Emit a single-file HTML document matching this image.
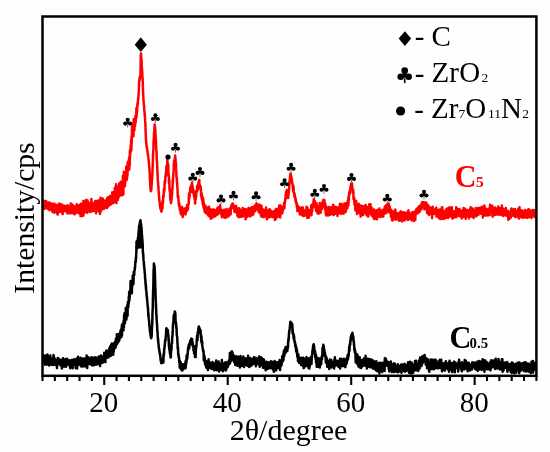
<!DOCTYPE html>
<html><head><meta charset="utf-8"><style>
html,body{margin:0;padding:0;background:#fefefe;}
svg{display:block;}
text{font-family:"Liberation Serif","Times New Roman",serif;fill:#000;}
</style></head><body>
<svg width="550" height="452" viewBox="0 0 550 452">
<rect width="550" height="452" fill="#fefefe"/>
<polyline fill="none" stroke="#ff0000" stroke-width="2.5" stroke-linejoin="round" points="43.3,204.7 43.4,207.9 43.5,207.7 43.7,203.6 43.8,204.1 43.9,203.6 44.0,206.3 44.2,204.9 44.3,206.8 44.4,200.7 44.5,208.9 44.7,205.0 44.8,206.9 44.9,205.0 45.0,204.4 45.1,206.5 45.3,207.4 45.4,205.0 45.5,205.2 45.6,207.2 45.8,203.5 45.9,202.1 46.0,206.7 46.1,204.2 46.3,201.2 46.4,203.9 46.5,204.8 46.6,203.1 46.7,202.4 46.9,206.1 47.0,208.2 47.1,205.6 47.2,204.4 47.4,207.1 47.5,208.0 47.6,205.6 47.7,207.6 47.9,208.9 48.0,205.9 48.1,204.5 48.2,207.3 48.3,207.1 48.5,209.2 48.6,203.5 48.7,205.1 48.8,204.7 49.0,202.6 49.1,207.1 49.2,208.1 49.3,205.1 49.5,210.2 49.6,208.9 49.7,208.4 49.8,207.9 49.9,209.3 50.1,203.8 50.2,208.5 50.3,208.5 50.4,202.9 50.6,208.0 50.7,206.6 50.8,209.1 50.9,206.2 51.0,207.2 51.2,208.1 51.3,205.2 51.4,208.8 51.5,207.1 51.7,208.6 51.8,206.2 51.9,210.1 52.0,208.9 52.2,207.1 52.3,209.1 52.4,210.6 52.5,211.9 52.6,203.8 52.8,209.8 52.9,208.8 53.0,207.5 53.1,205.3 53.3,210.8 53.4,204.7 53.5,209.2 53.6,210.9 53.8,204.0 53.9,207.1 54.0,204.8 54.1,208.5 54.2,211.6 54.4,212.8 54.5,203.7 54.6,206.6 54.7,209.7 54.9,211.8 55.0,209.1 55.1,206.3 55.2,208.8 55.4,208.1 55.5,207.7 55.6,206.4 55.7,209.1 55.8,209.0 56.0,208.0 56.1,207.7 56.2,205.2 56.3,207.1 56.5,211.2 56.6,207.9 56.7,204.9 56.8,211.6 57.0,209.6 57.1,213.5 57.2,208.6 57.3,207.3 57.4,205.0 57.6,211.6 57.7,214.6 57.8,206.5 57.9,206.9 58.1,209.9 58.2,206.5 58.3,207.9 58.4,207.7 58.6,209.0 58.7,211.2 58.8,208.6 58.9,210.8 59.0,207.6 59.2,209.4 59.3,203.5 59.4,205.2 59.5,210.6 59.7,207.3 59.8,210.1 59.9,210.0 60.0,211.9 60.2,210.7 60.3,211.2 60.4,208.5 60.5,207.1 60.6,207.0 60.8,207.6 60.9,206.1 61.0,207.5 61.1,208.6 61.3,209.4 61.4,208.0 61.5,204.2 61.6,208.7 61.8,209.4 61.9,211.5 62.0,210.3 62.1,207.4 62.2,207.2 62.4,213.8 62.5,210.8 62.6,213.3 62.7,214.1 62.9,207.0 63.0,209.9 63.1,210.1 63.2,210.3 63.3,210.3 63.5,209.5 63.6,209.4 63.7,205.4 63.8,208.6 64.0,207.3 64.1,209.4 64.2,207.9 64.3,210.6 64.5,211.0 64.6,209.8 64.7,209.9 64.8,209.3 64.9,208.0 65.1,208.7 65.2,207.9 65.3,210.1 65.4,209.2 65.6,210.5 65.7,206.0 65.8,211.3 65.9,207.3 66.1,207.4 66.2,208.7 66.3,207.8 66.4,209.9 66.5,207.8 66.7,206.6 66.8,207.2 66.9,212.3 67.0,209.3 67.2,206.4 67.3,209.2 67.4,205.5 67.5,213.5 67.7,205.5 67.8,210.3 67.9,210.5 68.0,205.7 68.1,209.9 68.3,211.6 68.4,210.3 68.5,209.8 68.6,211.5 68.8,209.6 68.9,210.0 69.0,208.9 69.1,210.7 69.3,206.9 69.4,211.1 69.5,208.0 69.6,206.6 69.7,210.1 69.9,213.3 70.0,211.5 70.1,208.0 70.2,210.9 70.4,208.1 70.5,208.9 70.6,209.4 70.7,203.6 70.9,209.7 71.0,206.7 71.1,207.5 71.2,205.7 71.3,205.6 71.5,206.9 71.6,211.2 71.7,213.2 71.8,209.1 72.0,211.8 72.1,208.6 72.2,204.6 72.3,209.6 72.5,210.3 72.6,208.2 72.7,209.9 72.8,210.6 72.9,207.1 73.1,205.6 73.2,208.7 73.3,208.7 73.4,208.3 73.6,211.6 73.7,213.5 73.8,208.2 73.9,210.9 74.1,211.5 74.2,211.0 74.3,211.8 74.4,208.2 74.5,211.1 74.7,214.3 74.8,211.2 74.9,207.6 75.0,210.7 75.2,212.4 75.3,210.1 75.4,207.8 75.5,213.1 75.7,206.0 75.8,210.5 75.9,209.2 76.0,206.1 76.1,212.3 76.3,210.1 76.4,206.2 76.5,210.8 76.6,208.1 76.8,204.3 76.9,207.4 77.0,209.9 77.1,210.9 77.2,209.6 77.4,209.3 77.5,210.4 77.6,208.6 77.7,212.3 77.9,209.6 78.0,210.0 78.1,210.6 78.2,206.4 78.4,207.3 78.5,213.3 78.6,210.1 78.7,208.4 78.8,210.1 79.0,207.9 79.1,209.9 79.2,207.4 79.3,209.9 79.5,204.9 79.6,212.7 79.7,207.7 79.8,204.8 80.0,208.5 80.1,208.0 80.2,209.4 80.3,205.9 80.4,210.1 80.6,216.1 80.7,205.4 80.8,209.9 80.9,208.0 81.1,209.4 81.2,203.8 81.3,205.6 81.4,210.1 81.6,208.7 81.7,213.3 81.8,206.8 81.9,209.2 82.0,216.0 82.2,206.5 82.3,206.1 82.4,208.5 82.5,208.4 82.7,210.9 82.8,208.9 82.9,206.3 83.0,209.1 83.2,215.8 83.3,212.0 83.4,200.9 83.5,207.9 83.6,205.8 83.8,210.1 83.9,207.8 84.0,213.8 84.1,210.9 84.3,210.7 84.4,208.7 84.5,208.0 84.6,209.1 84.8,211.8 84.9,209.6 85.0,207.0 85.1,211.7 85.2,208.5 85.4,207.7 85.5,205.5 85.6,206.2 85.7,205.9 85.9,200.1 86.0,210.7 86.1,209.4 86.2,207.0 86.4,210.7 86.5,208.8 86.6,208.6 86.7,200.1 86.8,206.7 87.0,209.0 87.1,212.1 87.2,212.8 87.3,211.5 87.5,203.7 87.6,200.5 87.7,208.8 87.8,207.1 88.0,209.9 88.1,206.6 88.2,207.6 88.3,202.3 88.4,208.2 88.6,205.4 88.7,207.8 88.8,208.1 88.9,206.3 89.1,207.6 89.2,206.6 89.3,208.9 89.4,208.1 89.6,204.9 89.7,204.7 89.8,211.9 89.9,206.2 90.0,209.6 90.2,207.7 90.3,204.7 90.4,204.1 90.5,206.8 90.7,207.3 90.8,208.4 90.9,202.5 91.0,204.6 91.1,206.1 91.3,211.5 91.4,199.0 91.5,207.8 91.6,204.7 91.8,207.8 91.9,204.9 92.0,207.6 92.1,211.3 92.3,207.5 92.4,207.8 92.5,207.6 92.6,204.0 92.7,208.1 92.9,205.7 93.0,203.8 93.1,206.2 93.2,205.6 93.4,208.8 93.5,206.2 93.6,204.7 93.7,211.0 93.9,209.5 94.0,210.4 94.1,208.3 94.2,206.0 94.3,205.0 94.5,205.4 94.6,209.4 94.7,206.7 94.8,201.6 95.0,206.2 95.1,201.8 95.2,206.9 95.3,202.4 95.5,202.2 95.6,206.7 95.7,206.1 95.8,200.9 95.9,208.7 96.1,213.3 96.2,201.5 96.3,212.2 96.4,204.1 96.6,204.7 96.7,205.7 96.8,201.6 96.9,210.5 97.1,207.9 97.2,203.8 97.3,205.4 97.4,201.3 97.5,205.1 97.7,209.3 97.8,200.7 97.9,204.8 98.0,206.7 98.2,209.7 98.3,210.7 98.4,204.8 98.5,203.8 98.7,207.7 98.8,205.1 98.9,205.2 99.0,209.8 99.1,211.8 99.3,207.1 99.4,205.6 99.5,208.1 99.6,200.0 99.8,206.2 99.9,202.7 100.0,214.1 100.1,208.6 100.3,206.6 100.4,205.5 100.5,197.8 100.6,208.5 100.7,211.5 100.9,203.7 101.0,208.3 101.1,208.4 101.2,200.8 101.4,209.0 101.5,210.4 101.6,206.6 101.7,205.6 101.9,208.4 102.0,200.6 102.1,206.0 102.2,209.1 102.3,201.4 102.5,208.8 102.6,204.0 102.7,198.4 102.8,205.0 103.0,202.0 103.1,206.3 103.2,201.2 103.3,208.6 103.4,202.6 103.6,206.2 103.7,202.9 103.8,203.8 103.9,208.8 104.1,205.5 104.2,203.4 104.3,200.4 104.4,208.5 104.6,207.0 104.7,203.4 104.8,205.3 104.9,200.9 105.0,200.9 105.2,201.4 105.3,205.4 105.4,205.1 105.5,201.5 105.7,206.5 105.8,206.6 105.9,204.4 106.0,207.3 106.2,202.7 106.3,203.2 106.4,205.2 106.5,203.4 106.6,206.1 106.8,199.0 106.9,208.1 107.0,200.5 107.1,202.5 107.3,198.3 107.4,205.0 107.5,207.2 107.6,206.4 107.8,205.5 107.9,197.2 108.0,199.8 108.1,200.8 108.2,199.1 108.4,206.1 108.5,202.8 108.6,202.0 108.7,203.6 108.9,198.5 109.0,198.6 109.1,198.6 109.2,203.3 109.4,202.6 109.5,203.3 109.6,204.9 109.7,196.4 109.8,199.0 110.0,201.4 110.1,196.0 110.2,198.8 110.3,204.0 110.5,204.2 110.6,204.0 110.7,200.3 110.8,199.2 111.0,203.7 111.1,198.4 111.2,200.8 111.3,204.2 111.4,197.9 111.6,196.9 111.7,198.9 111.8,200.9 111.9,200.3 112.1,199.0 112.2,200.3 112.3,192.2 112.4,194.8 112.6,198.3 112.7,194.2 112.8,192.5 112.9,192.8 113.0,193.8 113.2,196.4 113.3,193.1 113.4,197.7 113.5,203.0 113.7,196.0 113.8,201.2 113.9,197.4 114.0,192.0 114.2,195.2 114.3,192.3 114.4,198.8 114.5,191.5 114.6,200.8 114.8,197.8 114.9,187.8 115.0,198.4 115.1,201.3 115.3,192.2 115.4,198.9 115.5,188.0 115.6,195.9 115.8,188.3 115.9,196.5 116.0,187.5 116.1,184.2 116.2,195.8 116.4,203.1 116.5,191.6 116.6,197.1 116.7,194.1 116.9,192.2 117.0,195.8 117.1,199.7 117.2,188.1 117.3,195.1 117.5,194.0 117.6,186.8 117.7,198.8 117.8,200.0 118.0,188.1 118.1,198.8 118.2,191.9 118.3,190.8 118.5,197.4 118.6,192.0 118.7,192.2 118.8,197.0 118.9,195.9 119.1,194.1 119.2,184.4 119.3,183.5 119.4,194.5 119.6,185.8 119.7,190.1 119.8,184.8 119.9,188.4 120.1,183.6 120.2,195.6 120.3,184.3 120.4,187.9 120.5,187.4 120.7,193.1 120.8,181.8 120.9,187.5 121.0,186.6 121.2,189.5 121.3,189.1 121.4,184.9 121.5,187.8 121.7,185.0 121.8,188.4 121.9,185.8 122.0,183.2 122.1,185.8 122.3,187.3 122.4,195.3 122.5,183.2 122.6,186.5 122.8,191.3 122.9,175.7 123.0,176.9 123.1,179.1 123.3,183.5 123.4,194.3 123.5,185.2 123.6,188.4 123.7,181.9 123.9,171.8 124.0,172.1 124.1,186.4 124.2,182.4 124.4,175.6 124.5,185.8 124.6,173.8 124.7,185.2 124.9,186.2 125.0,176.1 125.1,174.3 125.2,182.5 125.3,173.6 125.5,181.8 125.6,172.3 125.7,180.7 125.8,177.2 126.0,174.4 126.1,171.9 126.2,176.4 126.3,166.5 126.5,173.2 126.6,172.1 126.7,176.3 126.8,167.2 126.9,179.6 127.1,170.0 127.2,165.6 127.3,176.1 127.4,176.3 127.6,167.0 127.7,162.8 127.8,165.7 127.9,161.8 128.1,162.8 128.2,170.5 128.3,164.7 128.4,163.1 128.5,163.5 128.7,161.2 128.8,164.7 128.9,164.3 129.0,158.2 129.2,159.7 129.3,169.5 129.4,160.0 129.5,156.7 129.7,166.1 129.8,156.4 129.9,150.7 130.0,157.9 130.1,150.0 130.3,150.8 130.4,153.5 130.5,150.3 130.6,146.2 130.8,146.0 130.9,144.5 131.0,151.0 131.1,141.0 131.2,140.1 131.4,150.2 131.5,136.7 131.6,144.1 131.7,141.6 131.9,133.6 132.0,126.6 132.1,133.9 132.2,133.9 132.4,134.6 132.5,130.0 132.6,134.7 132.7,135.2 132.8,123.8 133.0,134.8 133.1,128.9 133.2,125.4 133.3,126.3 133.5,136.2 133.6,132.0 133.7,119.3 133.8,127.7 134.0,126.5 134.1,126.2 134.2,124.5 134.3,120.2 134.4,130.1 134.6,122.1 134.7,124.1 134.8,122.4 134.9,121.0 135.1,125.9 135.2,123.4 135.3,118.3 135.4,116.4 135.6,117.5 135.7,122.1 135.8,118.1 135.9,117.7 136.0,114.9 136.2,114.3 136.3,115.0 136.4,108.0 136.5,117.2 136.7,109.7 136.8,109.5 136.9,113.1 137.0,109.6 137.2,108.2 137.3,106.2 137.4,103.7 137.5,105.5 137.6,105.8 137.8,101.9 137.9,103.7 138.0,99.4 138.1,98.7 138.3,99.0 138.4,97.2 138.5,96.6 138.6,93.7 138.8,91.7 138.9,88.7 139.0,86.3 139.1,83.7 139.2,81.0 139.4,80.5 139.5,79.0 139.6,77.5 139.7,80.3 139.9,77.5 140.0,76.7 140.1,77.9 140.2,77.1 140.4,74.4 140.5,72.3 140.6,66.4 140.7,62.1 140.8,55.0 141.0,53.4 141.1,55.1 141.2,57.7 141.3,57.5 141.5,60.0 141.6,61.3 141.7,66.0 141.8,67.7 142.0,69.0 142.1,70.2 142.2,72.7 142.3,72.8 142.4,76.8 142.6,78.0 142.7,80.5 142.8,83.8 142.9,87.4 143.1,91.8 143.2,95.1 143.3,97.1 143.4,98.2 143.5,101.1 143.7,102.1 143.8,104.6 143.9,104.6 144.0,104.8 144.2,107.7 144.3,110.8 144.4,110.9 144.5,111.7 144.7,113.8 144.8,115.1 144.9,116.8 145.0,117.9 145.1,120.4 145.3,122.6 145.4,124.4 145.5,127.1 145.6,131.7 145.8,135.9 145.9,138.3 146.0,139.8 146.1,141.3 146.3,144.2 146.4,143.6 146.5,145.2 146.6,146.9 146.7,146.3 146.9,147.3 147.0,148.7 147.1,150.0 147.2,149.8 147.4,150.8 147.5,151.6 147.6,151.6 147.7,154.3 147.9,154.2 148.0,154.0 148.1,156.1 148.2,155.8 148.3,157.3 148.5,159.0 148.6,159.3 148.7,161.9 148.8,161.0 149.0,163.6 149.1,165.1 149.2,167.2 149.3,168.3 149.5,169.5 149.6,171.3 149.7,173.2 149.8,176.3 149.9,177.8 150.1,181.8 150.2,183.8 150.3,185.9 150.4,187.2 150.6,190.5 150.7,189.6 150.8,191.0 150.9,191.2 151.1,191.2 151.2,190.3 151.3,189.3 151.4,188.5 151.5,185.1 151.7,184.7 151.8,182.0 151.9,181.4 152.0,178.5 152.2,176.7 152.3,175.0 152.4,173.5 152.5,169.9 152.7,166.6 152.8,164.3 152.9,159.3 153.0,155.2 153.1,153.4 153.3,150.5 153.4,148.9 153.5,146.5 153.6,140.6 153.8,140.6 153.9,137.1 154.0,134.1 154.1,131.9 154.3,132.0 154.4,128.5 154.5,126.8 154.6,126.2 154.7,124.5 154.9,126.0 155.0,126.4 155.1,128.2 155.2,130.0 155.4,130.9 155.5,134.8 155.6,134.9 155.7,138.7 155.9,139.2 156.0,143.5 156.1,145.2 156.2,148.4 156.3,150.3 156.5,151.4 156.6,154.6 156.7,157.8 156.8,160.6 157.0,161.1 157.1,162.9 157.2,166.3 157.3,169.3 157.4,171.4 157.6,173.7 157.7,177.4 157.8,179.8 157.9,181.7 158.1,182.2 158.2,184.9 158.3,186.3 158.4,187.0 158.6,190.4 158.7,191.3 158.8,192.3 158.9,195.3 159.0,196.2 159.2,197.8 159.3,199.6 159.4,200.8 159.5,200.6 159.7,202.6 159.8,205.0 159.9,204.4 160.0,205.7 160.2,206.6 160.3,208.1 160.4,208.5 160.5,208.6 160.6,207.8 160.8,209.6 160.9,209.4 161.0,208.8 161.1,211.2 161.3,210.1 161.4,208.3 161.5,211.6 161.6,209.0 161.8,210.1 161.9,205.7 162.0,207.8 162.1,205.2 162.2,204.3 162.4,201.5 162.5,208.2 162.6,202.8 162.7,202.5 162.9,203.2 163.0,199.9 163.1,200.2 163.2,195.7 163.4,197.8 163.5,195.7 163.6,196.5 163.7,194.9 163.8,190.9 164.0,189.0 164.1,189.6 164.2,191.9 164.3,190.3 164.5,189.1 164.6,183.4 164.7,181.1 164.8,183.7 165.0,183.0 165.1,181.2 165.2,181.8 165.3,179.5 165.4,176.3 165.6,175.6 165.7,176.2 165.8,174.7 165.9,172.9 166.1,176.0 166.2,169.8 166.3,169.3 166.4,166.2 166.6,166.6 166.7,167.7 166.8,167.2 166.9,165.3 167.0,165.9 167.2,164.9 167.3,161.0 167.4,159.5 167.5,169.1 167.7,166.7 167.8,165.7 167.9,163.4 168.0,165.3 168.2,171.4 168.3,164.9 168.4,170.4 168.5,173.8 168.6,173.8 168.8,176.6 168.9,176.6 169.0,183.3 169.1,178.6 169.3,179.8 169.4,184.8 169.5,188.9 169.6,187.7 169.7,191.4 169.9,189.8 170.0,190.2 170.1,196.8 170.2,198.7 170.4,200.2 170.5,197.9 170.6,197.8 170.7,198.8 170.9,201.3 171.0,203.1 171.1,202.8 171.2,198.7 171.3,201.0 171.5,199.7 171.6,198.6 171.7,197.1 171.8,195.2 172.0,195.2 172.1,192.8 172.2,191.5 172.3,188.3 172.5,188.8 172.6,186.1 172.7,180.5 172.8,183.6 172.9,180.1 173.1,180.4 173.2,176.4 173.3,174.6 173.4,173.3 173.6,171.1 173.7,168.3 173.8,163.8 173.9,168.9 174.1,160.6 174.2,161.5 174.3,162.2 174.4,160.7 174.5,160.1 174.7,159.6 174.8,159.9 174.9,157.7 175.0,162.0 175.2,155.4 175.3,158.5 175.4,158.4 175.5,159.2 175.7,162.0 175.8,165.6 175.9,162.8 176.0,164.6 176.1,169.4 176.3,171.4 176.4,176.4 176.5,177.0 176.6,177.8 176.8,178.8 176.9,181.7 177.0,182.8 177.1,182.3 177.3,186.8 177.4,188.1 177.5,189.7 177.6,190.9 177.7,196.5 177.9,196.0 178.0,197.7 178.1,195.9 178.2,196.2 178.4,198.8 178.5,200.8 178.6,200.7 178.7,202.0 178.9,205.1 179.0,204.7 179.1,203.0 179.2,204.8 179.3,205.0 179.5,207.2 179.6,205.1 179.7,207.6 179.8,209.7 180.0,208.9 180.1,207.6 180.2,208.6 180.3,210.4 180.5,211.5 180.6,212.5 180.7,210.8 180.8,208.8 180.9,214.2 181.1,212.1 181.2,212.4 181.3,212.3 181.4,209.8 181.6,211.2 181.7,212.4 181.8,213.9 181.9,212.1 182.1,207.1 182.2,211.7 182.3,212.9 182.4,214.7 182.5,213.6 182.7,217.1 182.8,215.1 182.9,215.0 183.0,214.2 183.2,209.8 183.3,214.1 183.4,213.6 183.5,211.5 183.6,213.6 183.8,213.3 183.9,211.6 184.0,212.3 184.1,212.0 184.3,212.9 184.4,211.6 184.5,213.4 184.6,208.6 184.8,211.7 184.9,208.9 185.0,211.1 185.1,212.9 185.2,211.8 185.4,211.4 185.5,211.6 185.6,214.4 185.7,209.0 185.9,212.7 186.0,207.9 186.1,209.7 186.2,210.7 186.4,208.6 186.5,210.4 186.6,211.2 186.7,207.2 186.8,209.1 187.0,208.3 187.1,205.1 187.2,208.1 187.3,206.5 187.5,210.1 187.6,205.3 187.7,209.7 187.8,204.8 188.0,208.9 188.1,205.5 188.2,204.6 188.3,204.5 188.4,204.0 188.6,204.2 188.7,204.1 188.8,199.4 188.9,196.9 189.1,193.7 189.2,197.2 189.3,198.6 189.4,197.0 189.6,195.7 189.7,193.9 189.8,192.5 189.9,192.4 190.0,192.9 190.2,188.1 190.3,192.2 190.4,187.5 190.5,189.6 190.7,188.2 190.8,188.4 190.9,186.7 191.0,186.1 191.2,187.5 191.3,185.6 191.4,192.1 191.5,186.4 191.6,185.8 191.8,185.9 191.9,185.0 192.0,182.4 192.1,186.8 192.3,188.2 192.4,185.0 192.5,188.2 192.6,186.3 192.8,189.0 192.9,190.2 193.0,190.8 193.1,191.2 193.2,189.4 193.4,192.9 193.5,190.9 193.6,193.1 193.7,194.4 193.9,193.2 194.0,192.1 194.1,196.6 194.2,194.0 194.4,195.2 194.5,195.5 194.6,199.8 194.7,198.4 194.8,194.8 195.0,200.8 195.1,203.5 195.2,202.9 195.3,198.1 195.5,198.9 195.6,199.2 195.7,199.3 195.8,196.9 196.0,193.9 196.1,196.6 196.2,195.5 196.3,190.9 196.4,191.9 196.6,192.3 196.7,191.0 196.8,191.4 196.9,191.4 197.1,190.3 197.2,188.5 197.3,185.6 197.4,188.8 197.5,189.7 197.7,190.3 197.8,185.9 197.9,185.4 198.0,187.8 198.2,187.3 198.3,184.9 198.4,185.3 198.5,182.2 198.7,184.7 198.8,181.9 198.9,183.2 199.0,183.4 199.1,182.9 199.3,180.0 199.4,182.8 199.5,185.3 199.6,185.0 199.8,184.8 199.9,186.8 200.0,187.8 200.1,188.6 200.3,185.9 200.4,187.9 200.5,187.7 200.6,187.3 200.7,186.7 200.9,190.1 201.0,189.3 201.1,195.9 201.2,192.4 201.4,192.9 201.5,193.3 201.6,198.5 201.7,193.8 201.9,196.0 202.0,195.5 202.1,197.4 202.2,198.3 202.3,201.2 202.5,197.0 202.6,200.4 202.7,204.2 202.8,200.8 203.0,202.0 203.1,201.3 203.2,198.5 203.3,203.9 203.5,207.0 203.6,204.2 203.7,202.0 203.8,206.8 203.9,206.9 204.1,209.4 204.2,209.7 204.3,207.6 204.4,209.4 204.6,205.0 204.7,211.7 204.8,209.9 204.9,212.1 205.1,212.3 205.2,209.4 205.3,209.9 205.4,208.4 205.5,205.8 205.7,210.5 205.8,211.3 205.9,208.5 206.0,212.9 206.2,211.6 206.3,212.5 206.4,209.7 206.5,207.4 206.7,213.6 206.8,213.3 206.9,211.6 207.0,211.0 207.1,211.4 207.3,211.8 207.4,210.9 207.5,207.4 207.6,214.2 207.8,208.7 207.9,211.6 208.0,211.7 208.1,213.1 208.3,208.7 208.4,215.5 208.5,214.2 208.6,214.6 208.7,215.8 208.9,210.9 209.0,206.7 209.1,213.7 209.2,216.1 209.4,215.8 209.5,211.8 209.6,212.9 209.7,213.8 209.8,208.8 210.0,211.6 210.1,211.7 210.2,217.1 210.3,211.7 210.5,217.1 210.6,213.4 210.7,209.3 210.8,218.7 211.0,211.1 211.1,214.9 211.2,217.5 211.3,212.2 211.4,210.5 211.6,216.0 211.7,213.6 211.8,210.6 211.9,210.9 212.1,212.6 212.2,215.8 212.3,212.8 212.4,215.1 212.6,217.5 212.7,216.5 212.8,216.9 212.9,216.4 213.0,209.6 213.2,216.4 213.3,214.2 213.4,213.1 213.5,210.8 213.7,209.6 213.8,210.7 213.9,213.3 214.0,210.5 214.2,211.4 214.3,211.8 214.4,214.9 214.5,212.6 214.6,212.9 214.8,216.4 214.9,212.5 215.0,214.6 215.1,210.6 215.3,213.9 215.4,213.4 215.5,213.5 215.6,212.0 215.8,210.6 215.9,212.3 216.0,211.9 216.1,215.4 216.2,215.1 216.4,210.0 216.5,214.3 216.6,211.6 216.7,213.7 216.9,211.4 217.0,208.9 217.1,214.7 217.2,213.3 217.4,209.3 217.5,207.8 217.6,210.7 217.7,209.2 217.8,210.8 218.0,212.7 218.1,214.2 218.2,210.4 218.3,213.5 218.5,212.9 218.6,209.7 218.7,207.2 218.8,211.2 219.0,210.4 219.1,212.9 219.2,211.0 219.3,209.8 219.4,211.0 219.6,207.0 219.7,208.9 219.8,208.4 219.9,211.8 220.1,210.2 220.2,205.2 220.3,212.3 220.4,208.6 220.6,212.0 220.7,209.9 220.8,211.5 220.9,212.5 221.0,211.8 221.2,209.6 221.3,214.8 221.4,212.8 221.5,212.1 221.7,213.9 221.8,211.3 221.9,217.2 222.0,213.4 222.2,213.9 222.3,214.0 222.4,211.1 222.5,210.5 222.6,214.0 222.8,214.3 222.9,216.8 223.0,214.6 223.1,210.9 223.3,214.8 223.4,215.5 223.5,216.0 223.6,214.3 223.7,210.6 223.9,216.3 224.0,211.8 224.1,214.9 224.2,209.8 224.4,215.4 224.5,211.7 224.6,216.1 224.7,217.8 224.9,216.4 225.0,210.7 225.1,211.3 225.2,211.5 225.3,215.1 225.5,214.4 225.6,213.9 225.7,214.3 225.8,214.9 226.0,215.1 226.1,217.6 226.2,213.4 226.3,214.0 226.5,209.1 226.6,210.4 226.7,211.9 226.8,210.7 226.9,214.1 227.1,216.0 227.2,212.5 227.3,212.3 227.4,212.2 227.6,213.6 227.7,211.9 227.8,214.1 227.9,213.7 228.1,213.7 228.2,214.5 228.3,212.6 228.4,212.7 228.5,216.4 228.7,211.9 228.8,213.7 228.9,211.8 229.0,210.4 229.2,210.2 229.3,209.1 229.4,210.9 229.5,209.2 229.7,209.5 229.8,213.2 229.9,209.8 230.0,212.7 230.1,210.4 230.3,211.6 230.4,208.0 230.5,209.4 230.6,214.5 230.8,210.4 230.9,210.4 231.0,208.6 231.1,209.5 231.3,205.3 231.4,205.7 231.5,207.9 231.6,208.3 231.7,205.9 231.9,206.2 232.0,205.7 232.1,205.9 232.2,204.2 232.4,203.9 232.5,205.9 232.6,203.4 232.7,204.5 232.9,205.1 233.0,204.5 233.1,206.7 233.2,205.6 233.3,206.4 233.5,204.9 233.6,205.5 233.7,208.0 233.8,207.9 234.0,206.5 234.1,208.3 234.2,208.2 234.3,208.3 234.5,211.7 234.6,207.5 234.7,209.5 234.8,209.7 234.9,208.3 235.1,206.2 235.2,210.8 235.3,210.0 235.4,209.6 235.6,209.7 235.7,209.9 235.8,207.9 235.9,210.9 236.1,206.1 236.2,210.5 236.3,207.2 236.4,210.1 236.5,212.8 236.7,210.6 236.8,210.3 236.9,212.8 237.0,211.1 237.2,210.9 237.3,211.0 237.4,215.7 237.5,213.8 237.6,213.4 237.8,209.4 237.9,213.8 238.0,209.3 238.1,213.5 238.3,209.7 238.4,217.1 238.5,208.4 238.6,215.4 238.8,214.4 238.9,208.2 239.0,211.9 239.1,216.0 239.2,215.3 239.4,208.6 239.5,211.3 239.6,209.8 239.7,210.1 239.9,211.1 240.0,217.0 240.1,212.9 240.2,212.1 240.4,211.8 240.5,214.2 240.6,214.3 240.7,210.5 240.8,216.2 241.0,210.1 241.1,212.0 241.2,213.8 241.3,216.8 241.5,211.9 241.6,213.4 241.7,215.9 241.8,214.2 242.0,215.5 242.1,215.3 242.2,213.4 242.3,214.3 242.4,215.0 242.6,212.7 242.7,216.6 242.8,208.0 242.9,210.6 243.1,216.3 243.2,213.8 243.3,211.3 243.4,213.7 243.6,215.4 243.7,211.5 243.8,214.7 243.9,212.5 244.0,212.6 244.2,212.7 244.3,215.5 244.4,210.2 244.5,212.0 244.7,214.4 244.8,209.9 244.9,209.1 245.0,214.2 245.2,212.9 245.3,212.5 245.4,213.2 245.5,210.5 245.6,219.2 245.8,210.5 245.9,211.8 246.0,209.4 246.1,211.8 246.3,216.5 246.4,212.9 246.5,214.2 246.6,211.6 246.8,217.1 246.9,213.2 247.0,209.8 247.1,214.6 247.2,211.9 247.4,214.2 247.5,213.1 247.6,213.3 247.7,213.0 247.9,210.5 248.0,209.1 248.1,215.0 248.2,212.3 248.4,213.3 248.5,211.5 248.6,207.7 248.7,209.5 248.8,215.9 249.0,210.6 249.1,211.6 249.2,209.0 249.3,211.2 249.5,211.5 249.6,211.9 249.7,212.2 249.8,210.9 249.9,211.0 250.1,212.3 250.2,213.1 250.3,211.9 250.4,216.4 250.6,212.6 250.7,212.4 250.8,210.4 250.9,214.3 251.1,209.3 251.2,207.8 251.3,209.2 251.4,212.9 251.5,208.6 251.7,214.3 251.8,211.0 251.9,207.3 252.0,210.3 252.2,215.0 252.3,208.5 252.4,207.3 252.5,211.5 252.7,213.3 252.8,212.5 252.9,209.1 253.0,210.3 253.1,210.4 253.3,212.3 253.4,214.3 253.5,209.0 253.6,211.9 253.8,208.2 253.9,210.0 254.0,206.6 254.1,206.8 254.3,209.1 254.4,206.3 254.5,209.6 254.6,206.7 254.7,207.7 254.9,207.2 255.0,206.6 255.1,207.3 255.2,208.8 255.4,211.2 255.5,204.8 255.6,207.1 255.7,206.3 255.9,205.1 256.0,206.8 256.1,205.1 256.2,206.3 256.3,208.3 256.5,203.2 256.6,206.9 256.7,207.3 256.8,204.9 257.0,207.6 257.1,207.4 257.2,206.2 257.3,209.2 257.5,204.6 257.6,208.4 257.7,206.9 257.8,205.3 257.9,207.2 258.1,207.0 258.2,209.6 258.3,204.8 258.4,207.7 258.6,207.3 258.7,212.1 258.8,206.0 258.9,211.3 259.1,204.7 259.2,209.8 259.3,208.8 259.4,210.2 259.5,207.7 259.7,204.8 259.8,205.9 259.9,212.9 260.0,210.3 260.2,207.9 260.3,212.2 260.4,208.4 260.5,208.6 260.7,207.6 260.8,213.5 260.9,215.5 261.0,208.6 261.1,211.7 261.3,213.5 261.4,216.4 261.5,205.7 261.6,211.9 261.8,213.3 261.9,208.3 262.0,212.9 262.1,212.6 262.3,213.9 262.4,210.9 262.5,213.4 262.6,211.1 262.7,214.1 262.9,213.1 263.0,211.9 263.1,209.5 263.2,216.9 263.4,215.7 263.5,215.2 263.6,211.6 263.7,212.4 263.8,217.2 264.0,215.1 264.1,211.2 264.2,213.4 264.3,213.7 264.5,212.9 264.6,211.1 264.7,216.4 264.8,214.8 265.0,212.9 265.1,209.7 265.2,212.1 265.3,213.5 265.4,215.6 265.6,212.6 265.7,216.2 265.8,213.9 265.9,211.8 266.1,207.5 266.2,210.8 266.3,210.0 266.4,213.3 266.6,214.4 266.7,217.0 266.8,213.6 266.9,210.9 267.0,219.3 267.2,214.4 267.3,213.1 267.4,213.1 267.5,210.5 267.7,215.3 267.8,214.6 267.9,217.6 268.0,216.4 268.2,215.9 268.3,216.8 268.4,213.1 268.5,212.7 268.6,213.7 268.8,210.8 268.9,213.5 269.0,213.0 269.1,215.4 269.3,213.8 269.4,209.3 269.5,213.9 269.6,217.3 269.8,209.5 269.9,212.0 270.0,213.9 270.1,210.7 270.2,212.5 270.4,214.0 270.5,210.7 270.6,214.6 270.7,214.8 270.9,210.8 271.0,213.9 271.1,216.5 271.2,213.4 271.4,214.9 271.5,215.4 271.6,213.3 271.7,216.2 271.8,214.8 272.0,211.5 272.1,215.1 272.2,215.9 272.3,215.8 272.5,212.3 272.6,214.9 272.7,217.1 272.8,214.3 273.0,216.6 273.1,216.9 273.2,213.7 273.3,215.3 273.4,213.1 273.6,216.3 273.7,213.5 273.8,212.4 273.9,213.6 274.1,213.5 274.2,214.6 274.3,214.8 274.4,210.9 274.6,212.1 274.7,214.5 274.8,214.8 274.9,213.8 275.0,219.9 275.2,216.3 275.3,213.4 275.4,215.3 275.5,216.7 275.7,214.4 275.8,209.3 275.9,213.7 276.0,213.6 276.1,218.6 276.3,209.0 276.4,217.1 276.5,213.0 276.6,215.6 276.8,212.6 276.9,213.7 277.0,215.9 277.1,213.3 277.3,215.6 277.4,212.8 277.5,212.0 277.6,212.3 277.7,211.6 277.9,212.4 278.0,215.9 278.1,209.8 278.2,208.5 278.4,212.4 278.5,216.4 278.6,214.8 278.7,215.4 278.9,215.1 279.0,210.3 279.1,212.3 279.2,205.6 279.3,210.4 279.5,213.2 279.6,207.9 279.7,206.6 279.8,208.4 280.0,211.9 280.1,214.1 280.2,217.4 280.3,214.6 280.5,207.4 280.6,205.4 280.7,211.2 280.8,213.3 280.9,206.7 281.1,209.3 281.2,209.3 281.3,210.4 281.4,209.8 281.6,211.2 281.7,212.2 281.8,209.9 281.9,211.2 282.1,213.6 282.2,207.3 282.3,207.1 282.4,210.0 282.5,212.4 282.7,209.0 282.8,210.5 282.9,207.7 283.0,209.7 283.2,206.8 283.3,208.7 283.4,208.0 283.5,207.7 283.7,208.9 283.8,208.1 283.9,205.2 284.0,207.0 284.1,202.9 284.3,206.4 284.4,208.2 284.5,204.8 284.6,204.2 284.8,202.9 284.9,203.2 285.0,200.5 285.1,201.2 285.3,199.0 285.4,197.9 285.5,197.9 285.6,197.0 285.7,193.9 285.9,198.6 286.0,195.1 286.1,191.8 286.2,195.3 286.4,193.3 286.5,193.5 286.6,194.3 286.7,192.2 286.9,189.9 287.0,194.0 287.1,194.9 287.2,196.3 287.3,194.0 287.5,194.9 287.6,195.9 287.7,195.0 287.8,195.2 288.0,196.0 288.1,194.2 288.2,198.0 288.3,194.3 288.5,195.2 288.6,193.7 288.7,191.7 288.8,191.9 288.9,190.8 289.1,189.8 289.2,187.1 289.3,184.4 289.4,184.9 289.6,180.2 289.7,181.0 289.8,180.5 289.9,179.5 290.0,176.3 290.2,175.2 290.3,179.3 290.4,175.7 290.5,173.6 290.7,173.9 290.8,175.5 290.9,177.2 291.0,175.6 291.2,177.7 291.3,176.8 291.4,177.8 291.5,179.2 291.6,177.9 291.8,179.6 291.9,179.6 292.0,180.3 292.1,183.3 292.3,182.2 292.4,184.5 292.5,184.0 292.6,185.8 292.8,185.9 292.9,188.9 293.0,188.0 293.1,188.6 293.2,191.5 293.4,185.8 293.5,188.6 293.6,187.0 293.7,191.4 293.9,192.6 294.0,193.4 294.1,193.5 294.2,192.4 294.4,196.7 294.5,195.2 294.6,194.9 294.7,194.3 294.8,197.0 295.0,196.3 295.1,196.9 295.2,198.4 295.3,199.1 295.5,198.2 295.6,201.8 295.7,199.2 295.8,199.7 296.0,202.4 296.1,202.7 296.2,203.2 296.3,203.0 296.4,204.2 296.6,203.8 296.7,202.7 296.8,206.6 296.9,204.5 297.1,206.0 297.2,207.8 297.3,207.1 297.4,211.1 297.6,205.6 297.7,206.8 297.8,208.3 297.9,210.4 298.0,208.3 298.2,206.7 298.3,210.8 298.4,207.8 298.5,209.1 298.7,211.1 298.8,208.6 298.9,209.1 299.0,210.9 299.2,209.8 299.3,210.8 299.4,208.6 299.5,210.3 299.6,208.5 299.8,207.6 299.9,214.4 300.0,211.9 300.1,213.0 300.3,209.0 300.4,211.1 300.5,210.8 300.6,208.1 300.8,212.7 300.9,209.8 301.0,211.0 301.1,207.9 301.2,214.0 301.4,213.5 301.5,212.6 301.6,209.6 301.7,210.5 301.9,214.7 302.0,211.2 302.1,212.5 302.2,212.3 302.4,209.3 302.5,215.6 302.6,207.2 302.7,212.5 302.8,211.8 303.0,208.1 303.1,212.8 303.2,213.3 303.3,212.1 303.5,210.0 303.6,213.1 303.7,214.7 303.8,212.5 303.9,216.1 304.1,214.1 304.2,213.9 304.3,215.3 304.4,210.4 304.6,210.8 304.7,213.2 304.8,213.3 304.9,215.6 305.1,214.8 305.2,212.4 305.3,212.5 305.4,211.4 305.5,211.1 305.7,210.9 305.8,214.2 305.9,210.9 306.0,211.2 306.2,212.4 306.3,210.8 306.4,211.5 306.5,206.8 306.7,212.9 306.8,211.3 306.9,212.5 307.0,212.9 307.1,207.6 307.3,217.9 307.4,212.5 307.5,212.6 307.6,207.9 307.8,213.7 307.9,213.2 308.0,211.3 308.1,212.8 308.3,215.3 308.4,211.4 308.5,210.1 308.6,215.4 308.7,212.8 308.9,211.7 309.0,217.6 309.1,212.4 309.2,211.5 309.4,212.5 309.5,210.8 309.6,212.2 309.7,211.9 309.9,209.9 310.0,210.7 310.1,212.0 310.2,212.0 310.3,212.4 310.5,212.8 310.6,211.4 310.7,211.9 310.8,209.6 311.0,209.7 311.1,212.7 311.2,205.4 311.3,210.7 311.5,215.2 311.6,205.2 311.7,212.3 311.8,205.0 311.9,209.2 312.1,211.4 312.2,210.8 312.3,205.6 312.4,204.6 312.6,204.0 312.7,207.8 312.8,205.4 312.9,205.8 313.1,205.8 313.2,205.7 313.3,205.4 313.4,204.3 313.5,201.1 313.7,205.5 313.8,198.9 313.9,204.4 314.0,201.4 314.2,201.8 314.3,201.2 314.4,201.5 314.5,202.3 314.7,202.1 314.8,201.0 314.9,205.0 315.0,202.8 315.1,207.1 315.3,204.6 315.4,203.9 315.5,206.8 315.6,208.2 315.8,204.4 315.9,206.2 316.0,210.7 316.1,205.3 316.2,206.0 316.4,208.9 316.5,205.9 316.6,203.3 316.7,205.5 316.9,210.7 317.0,211.6 317.1,211.7 317.2,211.4 317.4,207.6 317.5,212.2 317.6,213.4 317.7,208.9 317.8,212.8 318.0,209.6 318.1,210.9 318.2,211.3 318.3,206.8 318.5,213.8 318.6,208.2 318.7,209.9 318.8,208.9 319.0,211.1 319.1,211.0 319.2,209.9 319.3,213.1 319.4,210.3 319.6,208.5 319.7,203.1 319.8,208.6 319.9,208.5 320.1,206.9 320.2,206.8 320.3,210.1 320.4,210.9 320.6,212.7 320.7,210.6 320.8,205.8 320.9,207.8 321.0,203.5 321.2,208.1 321.3,206.8 321.4,204.3 321.5,205.1 321.7,204.4 321.8,203.3 321.9,206.9 322.0,208.9 322.2,205.2 322.3,205.3 322.4,203.3 322.5,202.1 322.6,205.9 322.8,201.5 322.9,202.4 323.0,201.5 323.1,202.5 323.3,201.5 323.4,202.7 323.5,199.8 323.6,202.0 323.8,205.1 323.9,201.1 324.0,202.2 324.1,206.6 324.2,205.1 324.4,207.0 324.5,200.2 324.6,205.7 324.7,202.8 324.9,202.9 325.0,207.5 325.1,209.7 325.2,203.6 325.4,205.0 325.5,206.6 325.6,208.0 325.7,205.5 325.8,214.4 326.0,210.7 326.1,208.7 326.2,208.5 326.3,215.5 326.5,215.4 326.6,209.0 326.7,211.1 326.8,213.4 327.0,207.6 327.1,209.1 327.2,213.8 327.3,209.0 327.4,209.7 327.6,207.6 327.7,209.0 327.8,212.6 327.9,209.0 328.1,207.9 328.2,209.6 328.3,215.4 328.4,211.6 328.6,209.9 328.7,211.7 328.8,212.4 328.9,211.7 329.0,207.1 329.2,212.2 329.3,211.0 329.4,213.5 329.5,208.2 329.7,214.0 329.8,210.3 329.9,207.4 330.0,214.7 330.1,210.3 330.3,212.4 330.4,211.1 330.5,214.1 330.6,214.1 330.8,214.1 330.9,213.1 331.0,207.4 331.1,207.2 331.3,211.8 331.4,208.9 331.5,212.3 331.6,211.5 331.7,207.7 331.9,208.5 332.0,208.2 332.1,208.8 332.2,210.4 332.4,212.5 332.5,214.0 332.6,208.3 332.7,209.3 332.9,214.3 333.0,212.7 333.1,211.0 333.2,204.7 333.3,207.9 333.5,210.7 333.6,208.9 333.7,215.1 333.8,210.4 334.0,210.8 334.1,207.5 334.2,207.6 334.3,208.5 334.5,208.5 334.6,209.5 334.7,210.9 334.8,210.6 334.9,212.4 335.1,206.7 335.2,210.5 335.3,210.6 335.4,213.8 335.6,209.5 335.7,210.8 335.8,208.0 335.9,211.0 336.1,211.0 336.2,208.5 336.3,208.9 336.4,209.9 336.5,211.4 336.7,207.2 336.8,212.1 336.9,209.2 337.0,214.6 337.2,213.5 337.3,209.0 337.4,208.5 337.5,216.0 337.7,211.5 337.8,211.4 337.9,209.0 338.0,209.7 338.1,211.9 338.3,211.5 338.4,208.0 338.5,213.0 338.6,210.7 338.8,207.7 338.9,212.4 339.0,209.6 339.1,211.9 339.3,208.7 339.4,210.9 339.5,206.1 339.6,210.9 339.7,206.3 339.9,210.4 340.0,203.8 340.1,209.8 340.2,211.7 340.4,211.2 340.5,212.9 340.6,207.4 340.7,213.8 340.9,213.9 341.0,207.0 341.1,208.0 341.2,208.6 341.3,209.9 341.5,210.4 341.6,203.9 341.7,211.3 341.8,209.2 342.0,207.4 342.1,212.1 342.2,209.0 342.3,212.5 342.4,211.0 342.6,209.0 342.7,212.5 342.8,211.6 342.9,208.4 343.1,205.7 343.2,208.3 343.3,211.0 343.4,208.9 343.6,213.8 343.7,210.1 343.8,209.9 343.9,210.3 344.0,207.2 344.2,209.0 344.3,207.6 344.4,203.5 344.5,204.9 344.7,210.9 344.8,208.0 344.9,208.7 345.0,205.4 345.2,207.5 345.3,210.7 345.4,208.9 345.5,207.3 345.6,212.1 345.8,208.0 345.9,207.1 346.0,210.5 346.1,203.3 346.3,208.6 346.4,204.2 346.5,204.7 346.6,204.7 346.8,206.3 346.9,206.0 347.0,206.1 347.1,205.5 347.2,208.0 347.4,208.3 347.5,205.6 347.6,205.3 347.7,202.4 347.9,200.4 348.0,203.6 348.1,201.9 348.2,203.0 348.4,197.0 348.5,205.2 348.6,197.0 348.7,198.9 348.8,200.1 349.0,195.0 349.1,195.9 349.2,192.6 349.3,193.0 349.5,191.5 349.6,194.3 349.7,193.8 349.8,192.0 350.0,193.5 350.1,192.7 350.2,189.7 350.3,188.5 350.4,187.6 350.6,186.6 350.7,188.2 350.8,186.3 350.9,184.9 351.1,184.5 351.2,185.0 351.3,183.6 351.4,184.4 351.6,184.1 351.7,186.3 351.8,186.5 351.9,183.2 352.0,185.6 352.2,187.5 352.3,186.2 352.4,188.9 352.5,188.9 352.7,190.2 352.8,190.0 352.9,191.6 353.0,193.0 353.2,190.3 353.3,192.3 353.4,192.9 353.5,198.9 353.6,196.9 353.8,197.8 353.9,198.1 354.0,197.3 354.1,197.5 354.3,201.6 354.4,199.6 354.5,204.6 354.6,202.1 354.8,202.5 354.9,202.3 355.0,203.1 355.1,203.9 355.2,207.9 355.4,210.3 355.5,202.2 355.6,205.9 355.7,207.3 355.9,203.8 356.0,204.7 356.1,205.4 356.2,201.0 356.3,208.7 356.5,207.3 356.6,207.4 356.7,208.1 356.8,208.7 357.0,213.9 357.1,209.0 357.2,210.7 357.3,207.7 357.5,209.9 357.6,208.4 357.7,209.0 357.8,207.2 357.9,207.5 358.1,210.7 358.2,211.4 358.3,210.8 358.4,208.1 358.6,210.5 358.7,203.7 358.8,212.1 358.9,209.8 359.1,210.6 359.2,212.8 359.3,209.0 359.4,212.4 359.5,209.1 359.7,211.5 359.8,209.2 359.9,211.0 360.0,213.8 360.2,208.8 360.3,208.9 360.4,209.6 360.5,211.1 360.7,216.6 360.8,209.1 360.9,205.6 361.0,208.9 361.1,206.7 361.3,209.2 361.4,210.6 361.5,208.2 361.6,208.9 361.8,206.1 361.9,211.0 362.0,208.8 362.1,213.2 362.3,213.1 362.4,208.5 362.5,209.7 362.6,210.7 362.7,212.4 362.9,206.6 363.0,210.4 363.1,215.1 363.2,210.4 363.4,211.1 363.5,210.6 363.6,207.7 363.7,212.9 363.9,211.2 364.0,211.0 364.1,212.3 364.2,212.5 364.3,206.0 364.5,211.8 364.6,209.2 364.7,211.0 364.8,208.9 365.0,208.5 365.1,212.9 365.2,210.6 365.3,209.9 365.5,209.9 365.6,210.8 365.7,210.6 365.8,204.9 365.9,208.5 366.1,210.1 366.2,212.4 366.3,213.9 366.4,208.4 366.6,215.3 366.7,210.9 366.8,211.8 366.9,209.4 367.1,209.2 367.2,214.1 367.3,210.1 367.4,210.4 367.5,213.5 367.7,214.8 367.8,207.1 367.9,210.2 368.0,210.7 368.2,215.1 368.3,216.6 368.4,210.6 368.5,211.6 368.7,212.8 368.8,213.5 368.9,209.9 369.0,212.8 369.1,209.0 369.3,204.3 369.4,207.4 369.5,211.2 369.6,212.6 369.8,205.3 369.9,206.4 370.0,210.7 370.1,204.3 370.2,212.1 370.4,213.3 370.5,204.3 370.6,212.7 370.7,210.4 370.9,214.3 371.0,211.6 371.1,210.4 371.2,211.4 371.4,213.4 371.5,211.6 371.6,211.3 371.7,207.8 371.8,212.5 372.0,211.5 372.1,215.9 372.2,211.6 372.3,211.5 372.5,210.2 372.6,213.6 372.7,211.4 372.8,210.3 373.0,215.9 373.1,216.4 373.2,211.1 373.3,209.8 373.4,215.1 373.6,210.4 373.7,218.4 373.8,212.3 373.9,215.0 374.1,209.6 374.2,212.7 374.3,215.5 374.4,214.0 374.6,211.7 374.7,218.9 374.8,214.9 374.9,212.6 375.0,211.7 375.2,212.6 375.3,216.5 375.4,211.4 375.5,213.4 375.7,211.4 375.8,216.4 375.9,213.0 376.0,215.4 376.2,214.7 376.3,212.0 376.4,215.1 376.5,215.6 376.6,210.6 376.8,215.1 376.9,219.2 377.0,212.6 377.1,214.9 377.3,210.1 377.4,214.5 377.5,211.9 377.6,215.2 377.8,213.2 377.9,210.5 378.0,216.0 378.1,212.8 378.2,210.9 378.4,213.5 378.5,211.0 378.6,214.2 378.7,213.1 378.9,212.4 379.0,214.9 379.1,210.1 379.2,215.6 379.4,208.4 379.5,217.1 379.6,213.6 379.7,212.5 379.8,211.4 380.0,214.5 380.1,212.8 380.2,212.7 380.3,215.6 380.5,212.0 380.6,212.5 380.7,214.1 380.8,215.7 381.0,212.7 381.1,213.4 381.2,213.1 381.3,214.8 381.4,216.6 381.6,210.7 381.7,212.6 381.8,212.8 381.9,214.3 382.1,216.5 382.2,212.8 382.3,213.3 382.4,215.5 382.5,209.7 382.7,210.7 382.8,211.4 382.9,212.4 383.0,212.9 383.2,211.0 383.3,216.4 383.4,210.3 383.5,211.4 383.7,214.4 383.8,213.5 383.9,211.5 384.0,212.3 384.1,213.2 384.3,211.1 384.4,212.6 384.5,208.6 384.6,210.9 384.8,206.6 384.9,208.3 385.0,207.6 385.1,213.2 385.3,209.0 385.4,210.6 385.5,207.6 385.6,209.1 385.7,208.7 385.9,207.3 386.0,210.7 386.1,205.4 386.2,209.8 386.4,213.0 386.5,206.6 386.6,208.0 386.7,205.0 386.9,207.6 387.0,204.6 387.1,208.4 387.2,206.5 387.3,204.4 387.5,205.2 387.6,204.8 387.7,206.7 387.8,208.6 388.0,206.7 388.1,205.5 388.2,206.2 388.3,208.0 388.5,203.6 388.6,209.4 388.7,209.3 388.8,204.0 388.9,211.4 389.1,205.9 389.2,209.1 389.3,212.4 389.4,206.5 389.6,206.2 389.7,208.0 389.8,208.3 389.9,210.7 390.1,209.9 390.2,210.1 390.3,210.3 390.4,211.2 390.5,209.8 390.7,212.9 390.8,212.2 390.9,209.9 391.0,217.1 391.2,209.7 391.3,214.8 391.4,211.3 391.5,214.2 391.7,214.8 391.8,215.8 391.9,217.3 392.0,211.9 392.1,220.3 392.3,215.3 392.4,212.5 392.5,211.3 392.6,220.5 392.8,218.9 392.9,215.0 393.0,217.0 393.1,218.5 393.3,215.6 393.4,214.4 393.5,215.4 393.6,217.6 393.7,215.7 393.9,212.6 394.0,217.5 394.1,211.5 394.2,213.9 394.4,218.8 394.5,216.3 394.6,216.4 394.7,216.1 394.9,218.3 395.0,215.7 395.1,211.1 395.2,216.5 395.3,209.5 395.5,210.9 395.6,219.8 395.7,218.5 395.8,214.8 396.0,215.8 396.1,216.2 396.2,218.4 396.3,214.1 396.4,213.8 396.6,214.5 396.7,216.4 396.8,216.7 396.9,215.1 397.1,217.9 397.2,213.6 397.3,215.9 397.4,214.4 397.6,213.6 397.7,219.1 397.8,215.3 397.9,213.6 398.0,216.2 398.2,213.7 398.3,217.6 398.4,218.2 398.5,218.7 398.7,213.5 398.8,215.8 398.9,220.7 399.0,215.6 399.2,219.3 399.3,219.9 399.4,212.8 399.5,219.1 399.6,218.0 399.8,218.3 399.9,220.3 400.0,217.3 400.1,216.4 400.3,217.7 400.4,215.3 400.5,217.4 400.6,211.2 400.8,220.4 400.9,214.9 401.0,217.5 401.1,216.9 401.2,216.4 401.4,216.5 401.5,216.3 401.6,212.2 401.7,214.8 401.9,219.1 402.0,213.7 402.1,213.6 402.2,221.4 402.4,219.1 402.5,220.0 402.6,216.1 402.7,216.8 402.8,218.0 403.0,217.6 403.1,216.0 403.2,212.6 403.3,214.4 403.5,212.5 403.6,220.0 403.7,215.2 403.8,215.7 404.0,216.8 404.1,216.2 404.2,217.4 404.3,214.6 404.4,212.4 404.6,220.4 404.7,214.4 404.8,215.0 404.9,214.2 405.1,214.8 405.2,216.2 405.3,217.9 405.4,213.5 405.6,216.8 405.7,214.5 405.8,219.0 405.9,213.1 406.0,216.3 406.2,217.8 406.3,212.8 406.4,216.4 406.5,216.4 406.7,214.1 406.8,215.5 406.9,218.5 407.0,216.7 407.2,215.1 407.3,215.6 407.4,217.2 407.5,219.2 407.6,218.0 407.8,217.8 407.9,219.9 408.0,212.3 408.1,212.6 408.3,210.5 408.4,218.1 408.5,210.5 408.6,215.9 408.8,217.9 408.9,212.7 409.0,214.4 409.1,215.4 409.2,217.8 409.4,212.4 409.5,216.8 409.6,217.7 409.7,216.4 409.9,216.4 410.0,219.0 410.1,216.6 410.2,216.0 410.3,215.2 410.5,217.6 410.6,215.3 410.7,217.6 410.8,216.2 411.0,218.7 411.1,214.0 411.2,216.1 411.3,216.7 411.5,216.8 411.6,218.6 411.7,216.7 411.8,217.9 411.9,220.5 412.1,217.7 412.2,213.1 412.3,212.2 412.4,217.2 412.6,214.6 412.7,216.2 412.8,215.0 412.9,218.6 413.1,218.3 413.2,212.6 413.3,215.9 413.4,214.5 413.5,212.0 413.7,216.7 413.8,214.7 413.9,216.1 414.0,220.9 414.2,218.1 414.3,217.5 414.4,213.8 414.5,211.9 414.7,217.7 414.8,213.9 414.9,214.7 415.0,213.6 415.1,214.7 415.3,220.1 415.4,213.5 415.5,213.5 415.6,214.6 415.8,214.7 415.9,211.0 416.0,209.5 416.1,212.2 416.3,213.0 416.4,211.5 416.5,210.8 416.6,210.8 416.7,212.0 416.9,212.5 417.0,208.7 417.1,211.1 417.2,213.1 417.4,211.8 417.5,208.7 417.6,210.9 417.7,211.6 417.9,213.3 418.0,207.4 418.1,212.7 418.2,209.8 418.3,211.3 418.5,212.2 418.6,208.4 418.7,208.3 418.8,209.9 419.0,211.7 419.1,208.5 419.2,206.3 419.3,207.8 419.5,210.2 419.6,211.9 419.7,207.7 419.8,208.0 419.9,208.1 420.1,208.0 420.2,205.9 420.3,206.9 420.4,208.2 420.6,207.7 420.7,207.3 420.8,204.8 420.9,205.6 421.1,205.0 421.2,208.8 421.3,209.4 421.4,206.8 421.5,209.3 421.7,205.0 421.8,204.8 421.9,202.5 422.0,205.6 422.2,204.0 422.3,205.0 422.4,205.7 422.5,204.0 422.6,202.1 422.8,204.2 422.9,204.0 423.0,204.2 423.1,205.4 423.3,203.6 423.4,203.4 423.5,207.3 423.6,206.0 423.8,203.8 423.9,202.2 424.0,203.2 424.1,204.9 424.2,205.9 424.4,209.2 424.5,204.0 424.6,204.9 424.7,204.0 424.9,205.1 425.0,204.3 425.1,203.0 425.2,207.6 425.4,205.9 425.5,208.6 425.6,204.9 425.7,206.8 425.8,207.9 426.0,202.4 426.1,203.9 426.2,208.7 426.3,207.4 426.5,203.1 426.6,205.8 426.7,205.2 426.8,206.7 427.0,211.6 427.1,206.7 427.2,213.0 427.3,207.7 427.4,206.7 427.6,212.3 427.7,211.0 427.8,212.1 427.9,213.6 428.1,211.6 428.2,212.1 428.3,205.3 428.4,207.5 428.6,210.6 428.7,210.2 428.8,211.5 428.9,208.8 429.0,212.7 429.2,215.0 429.3,211.7 429.4,212.4 429.5,211.7 429.7,212.8 429.8,211.3 429.9,209.7 430.0,211.4 430.2,211.3 430.3,207.5 430.4,211.8 430.5,211.4 430.6,211.9 430.8,210.2 430.9,212.7 431.0,213.1 431.1,210.0 431.3,212.6 431.4,213.7 431.5,213.7 431.6,209.8 431.8,209.6 431.9,212.1 432.0,209.6 432.1,218.1 432.2,210.2 432.4,210.3 432.5,213.7 432.6,211.1 432.7,206.7 432.9,211.9 433.0,210.0 433.1,211.1 433.2,208.5 433.4,210.3 433.5,212.0 433.6,212.3 433.7,209.8 433.8,210.8 434.0,210.5 434.1,212.9 434.2,212.2 434.3,209.6 434.5,214.1 434.6,211.0 434.7,213.6 434.8,210.5 435.0,213.4 435.1,212.5 435.2,212.9 435.3,214.0 435.4,213.9 435.6,213.2 435.7,213.3 435.8,209.9 435.9,212.8 436.1,207.8 436.2,207.7 436.3,212.2 436.4,212.5 436.5,216.6 436.7,214.6 436.8,215.7 436.9,212.4 437.0,214.2 437.2,215.9 437.3,214.4 437.4,214.0 437.5,213.5 437.7,211.1 437.8,211.1 437.9,209.9 438.0,214.3 438.1,212.7 438.3,211.7 438.4,214.2 438.5,212.0 438.6,215.8 438.8,217.9 438.9,214.5 439.0,211.8 439.1,209.9 439.3,218.2 439.4,214.5 439.5,210.6 439.6,216.0 439.7,209.5 439.9,212.4 440.0,212.9 440.1,212.6 440.2,210.7 440.4,219.1 440.5,212.5 440.6,214.4 440.7,213.5 440.9,209.7 441.0,212.1 441.1,214.0 441.2,215.7 441.3,212.6 441.5,214.3 441.6,212.7 441.7,214.9 441.8,207.6 442.0,214.9 442.1,212.0 442.2,212.1 442.3,207.3 442.5,210.9 442.6,214.9 442.7,219.0 442.8,211.8 442.9,211.9 443.1,214.6 443.2,214.2 443.3,212.1 443.4,213.1 443.6,212.6 443.7,215.0 443.8,215.4 443.9,217.7 444.1,215.7 444.2,215.1 444.3,213.9 444.4,215.7 444.5,211.1 444.7,218.6 444.8,214.2 444.9,216.9 445.0,211.6 445.2,216.0 445.3,214.4 445.4,213.0 445.5,211.9 445.7,211.4 445.8,217.8 445.9,216.4 446.0,213.8 446.1,214.0 446.3,211.8 446.4,209.1 446.5,209.2 446.6,212.0 446.8,213.1 446.9,210.7 447.0,215.4 447.1,214.7 447.3,213.9 447.4,209.3 447.5,213.0 447.6,213.4 447.7,210.5 447.9,208.3 448.0,218.1 448.1,215.0 448.2,212.6 448.4,217.3 448.5,216.2 448.6,214.6 448.7,214.0 448.8,215.4 449.0,217.0 449.1,213.7 449.2,212.9 449.3,214.9 449.5,207.3 449.6,213.7 449.7,212.5 449.8,213.5 450.0,213.1 450.1,214.3 450.2,213.7 450.3,213.7 450.4,213.2 450.6,214.6 450.7,212.3 450.8,215.9 450.9,209.5 451.1,214.0 451.2,214.6 451.3,210.4 451.4,212.5 451.6,216.7 451.7,213.2 451.8,211.4 451.9,207.3 452.0,214.3 452.2,213.7 452.3,215.0 452.4,218.4 452.5,213.5 452.7,213.8 452.8,211.9 452.9,213.4 453.0,213.4 453.2,215.3 453.3,214.8 453.4,211.7 453.5,212.4 453.6,216.8 453.8,211.2 453.9,215.3 454.0,217.4 454.1,215.1 454.3,214.1 454.4,216.8 454.5,214.3 454.6,213.5 454.8,213.0 454.9,216.3 455.0,215.2 455.1,217.2 455.2,212.7 455.4,212.7 455.5,212.5 455.6,214.2 455.7,211.8 455.9,215.7 456.0,214.3 456.1,211.1 456.2,207.3 456.4,209.1 456.5,217.0 456.6,213.4 456.7,213.9 456.8,212.5 457.0,214.4 457.1,208.9 457.2,208.7 457.3,209.6 457.5,213.7 457.6,215.2 457.7,214.6 457.8,213.2 458.0,210.4 458.1,215.4 458.2,212.8 458.3,213.4 458.4,213.3 458.6,212.4 458.7,211.8 458.8,212.1 458.9,210.4 459.1,214.1 459.2,213.1 459.3,215.9 459.4,209.1 459.6,216.3 459.7,213.3 459.8,213.1 459.9,211.6 460.0,211.5 460.2,209.9 460.3,215.6 460.4,213.0 460.5,215.2 460.7,215.5 460.8,212.3 460.9,212.9 461.0,212.7 461.2,216.0 461.3,213.8 461.4,213.9 461.5,215.2 461.6,213.3 461.8,218.4 461.9,211.3 462.0,216.5 462.1,216.9 462.3,210.8 462.4,215.6 462.5,214.2 462.6,215.6 462.7,210.6 462.9,214.1 463.0,211.1 463.1,212.7 463.2,216.9 463.4,213.2 463.5,208.1 463.6,210.1 463.7,210.8 463.9,215.9 464.0,211.8 464.1,209.8 464.2,216.2 464.3,214.1 464.5,214.3 464.6,211.6 464.7,216.9 464.8,213.2 465.0,208.8 465.1,210.8 465.2,211.5 465.3,213.1 465.5,215.3 465.6,211.8 465.7,212.1 465.8,218.8 465.9,213.7 466.1,212.2 466.2,213.6 466.3,210.5 466.4,214.8 466.6,215.8 466.7,212.1 466.8,215.9 466.9,212.8 467.1,214.2 467.2,211.7 467.3,211.6 467.4,209.9 467.5,214.0 467.7,212.8 467.8,212.9 467.9,210.8 468.0,210.7 468.2,212.0 468.3,214.6 468.4,214.2 468.5,211.9 468.7,214.2 468.8,217.7 468.9,213.8 469.0,218.4 469.1,214.5 469.3,216.7 469.4,212.2 469.5,216.3 469.6,210.7 469.8,214.1 469.9,212.7 470.0,208.7 470.1,210.2 470.3,216.2 470.4,214.7 470.5,216.6 470.6,213.9 470.7,207.2 470.9,214.1 471.0,212.1 471.1,212.2 471.2,212.3 471.4,211.6 471.5,211.1 471.6,216.4 471.7,214.4 471.9,211.8 472.0,212.3 472.1,215.6 472.2,214.2 472.3,213.7 472.5,210.3 472.6,212.2 472.7,210.5 472.8,208.6 473.0,215.3 473.1,212.3 473.2,212.1 473.3,210.7 473.5,214.8 473.6,218.0 473.7,214.4 473.8,215.2 473.9,209.9 474.1,213.3 474.2,213.4 474.3,216.4 474.4,212.8 474.6,210.5 474.7,212.6 474.8,211.6 474.9,216.1 475.1,214.2 475.2,213.4 475.3,213.0 475.4,214.6 475.5,211.3 475.7,210.3 475.8,207.9 475.9,215.3 476.0,213.6 476.2,213.9 476.3,212.4 476.4,216.3 476.5,209.9 476.6,215.1 476.8,210.2 476.9,211.1 477.0,209.2 477.1,212.3 477.3,211.4 477.4,213.1 477.5,210.6 477.6,208.7 477.8,213.4 477.9,215.1 478.0,213.7 478.1,211.8 478.2,212.9 478.4,207.8 478.5,211.1 478.6,214.6 478.7,212.9 478.9,209.7 479.0,213.8 479.1,211.4 479.2,213.5 479.4,208.3 479.5,210.4 479.6,212.4 479.7,212.4 479.8,212.9 480.0,211.6 480.1,211.1 480.2,212.7 480.3,213.6 480.5,207.9 480.6,210.7 480.7,211.0 480.8,211.8 481.0,213.8 481.1,208.2 481.2,212.6 481.3,207.2 481.4,209.5 481.6,210.0 481.7,210.6 481.8,209.8 481.9,210.0 482.1,210.4 482.2,210.5 482.3,206.8 482.4,207.8 482.6,210.1 482.7,212.4 482.8,213.5 482.9,217.4 483.0,211.3 483.2,209.2 483.3,211.5 483.4,212.7 483.5,211.4 483.7,208.5 483.8,210.8 483.9,210.9 484.0,207.6 484.2,208.1 484.3,213.8 484.4,205.6 484.5,211.4 484.6,210.3 484.8,214.3 484.9,212.4 485.0,208.9 485.1,214.0 485.3,209.6 485.4,215.7 485.5,214.9 485.6,210.8 485.8,212.8 485.9,211.4 486.0,208.8 486.1,213.5 486.2,212.0 486.4,213.0 486.5,213.5 486.6,214.3 486.7,213.4 486.9,210.8 487.0,211.2 487.1,212.0 487.2,210.7 487.4,210.4 487.5,215.4 487.6,212.1 487.7,215.5 487.8,209.2 488.0,210.9 488.1,210.0 488.2,210.1 488.3,210.3 488.5,210.7 488.6,210.0 488.7,215.3 488.8,212.6 488.9,209.2 489.1,209.7 489.2,212.8 489.3,212.3 489.4,209.5 489.6,213.2 489.7,207.6 489.8,209.9 489.9,215.1 490.1,204.8 490.2,210.5 490.3,213.3 490.4,210.7 490.5,209.1 490.7,208.9 490.8,206.1 490.9,207.8 491.0,211.2 491.2,209.6 491.3,211.0 491.4,210.6 491.5,211.7 491.7,207.1 491.8,210.3 491.9,210.2 492.0,210.3 492.1,208.9 492.3,205.8 492.4,212.5 492.5,212.9 492.6,216.6 492.8,212.7 492.9,214.9 493.0,212.4 493.1,210.1 493.3,212.2 493.4,208.2 493.5,211.6 493.6,210.7 493.7,208.5 493.9,213.9 494.0,213.7 494.1,212.1 494.2,212.9 494.4,214.9 494.5,210.7 494.6,207.8 494.7,208.7 494.9,212.7 495.0,211.6 495.1,207.5 495.2,214.1 495.3,211.5 495.5,214.8 495.6,213.7 495.7,210.0 495.8,211.3 496.0,209.3 496.1,209.0 496.2,210.3 496.3,212.2 496.5,214.3 496.6,209.0 496.7,212.8 496.8,211.2 496.9,210.6 497.1,213.8 497.2,210.3 497.3,214.4 497.4,210.4 497.6,209.0 497.7,213.0 497.8,207.7 497.9,208.4 498.1,210.8 498.2,211.3 498.3,210.6 498.4,206.6 498.5,208.1 498.7,212.6 498.8,212.6 498.9,209.0 499.0,212.0 499.2,211.9 499.3,213.9 499.4,209.7 499.5,214.9 499.7,210.8 499.8,215.0 499.9,213.7 500.0,209.1 500.1,210.8 500.3,212.3 500.4,214.0 500.5,208.3 500.6,210.5 500.8,213.2 500.9,212.8 501.0,209.2 501.1,209.6 501.3,212.8 501.4,209.3 501.5,212.4 501.6,214.0 501.7,211.9 501.9,205.6 502.0,214.7 502.1,214.7 502.2,215.3 502.4,214.0 502.5,208.0 502.6,215.4 502.7,212.9 502.8,214.3 503.0,211.7 503.1,211.5 503.2,211.6 503.3,216.0 503.5,212.8 503.6,211.7 503.7,209.2 503.8,213.4 504.0,212.4 504.1,212.8 504.2,214.8 504.3,214.2 504.4,212.5 504.6,213.1 504.7,212.8 504.8,214.4 504.9,214.4 505.1,213.1 505.2,210.8 505.3,214.9 505.4,215.1 505.6,210.4 505.7,213.9 505.8,212.1 505.9,207.9 506.0,213.0 506.2,215.5 506.3,211.5 506.4,211.6 506.5,215.8 506.7,210.7 506.8,211.1 506.9,212.7 507.0,214.9 507.2,215.0 507.3,212.2 507.4,212.8 507.5,213.7 507.6,212.6 507.8,211.5 507.9,210.9 508.0,215.3 508.1,213.0 508.3,219.7 508.4,215.0 508.5,211.8 508.6,213.6 508.8,214.4 508.9,214.5 509.0,214.6 509.1,214.6 509.2,213.2 509.4,215.1 509.5,218.8 509.6,212.5 509.7,212.6 509.9,215.2 510.0,216.5 510.1,215.5 510.2,216.5 510.4,213.4 510.5,213.0 510.6,215.1 510.7,215.2 510.8,217.6 511.0,217.3 511.1,209.2 511.2,215.4 511.3,211.9 511.5,208.5 511.6,214.5 511.7,213.1 511.8,212.7 512.0,210.5 512.1,211.1 512.2,213.0 512.3,210.0 512.4,213.3 512.6,213.8 512.7,213.2 512.8,214.2 512.9,213.4 513.1,210.7 513.2,211.1 513.3,213.8 513.4,215.8 513.6,213.9 513.7,212.3 513.8,213.9 513.9,209.2 514.0,211.1 514.2,212.6 514.3,213.4 514.4,212.7 514.5,212.9 514.7,210.7 514.8,212.1 514.9,214.1 515.0,209.1 515.2,210.6 515.3,212.7 515.4,217.0 515.5,215.1 515.6,217.2 515.8,216.7 515.9,212.4 516.0,213.3 516.1,210.7 516.3,216.3 516.4,215.2 516.5,214.9 516.6,215.1 516.7,214.6 516.9,214.0 517.0,214.2 517.1,216.4 517.2,211.6 517.4,211.0 517.5,213.5 517.6,216.3 517.7,214.1 517.9,213.0 518.0,215.5 518.1,213.8 518.2,209.0 518.3,211.1 518.5,208.5 518.6,213.0 518.7,212.4 518.8,214.6 519.0,218.6 519.1,212.1 519.2,213.5 519.3,212.6 519.5,207.3 519.6,211.7 519.7,211.8 519.8,214.2 519.9,211.5 520.1,210.4 520.2,214.9 520.3,213.4 520.4,211.4 520.6,211.7 520.7,212.8 520.8,215.5 520.9,216.9 521.1,210.4 521.2,216.3 521.3,213.6 521.4,214.4 521.5,215.8 521.7,211.2 521.8,215.6 521.9,210.4 522.0,212.4 522.2,211.5 522.3,217.5 522.4,217.4 522.5,215.3 522.7,214.8 522.8,212.3 522.9,217.7 523.0,216.9 523.1,215.7 523.3,213.3 523.4,212.7 523.5,213.3 523.6,216.7 523.8,211.3 523.9,213.8 524.0,217.4 524.1,215.7 524.3,217.7 524.4,214.5 524.5,214.6 524.6,216.9 524.7,215.1 524.9,214.4 525.0,212.4 525.1,210.0 525.2,217.1 525.4,212.6 525.5,211.8 525.6,215.7 525.7,211.5 525.9,210.4 526.0,212.2 526.1,213.5 526.2,214.2 526.3,214.8 526.5,215.9 526.6,213.3 526.7,214.5 526.8,213.3 527.0,212.1 527.1,214.6 527.2,214.5 527.3,218.0 527.5,215.0 527.6,212.0 527.7,215.0 527.8,213.0 527.9,217.4 528.1,209.6 528.2,212.0 528.3,212.1 528.4,213.9 528.6,213.3 528.7,209.8 528.8,209.2 528.9,214.1 529.0,217.1 529.2,217.1 529.3,212.7 529.4,214.7 529.5,211.6 529.7,210.2 529.8,216.5 529.9,215.2 530.0,212.8 530.2,212.7 530.3,215.8 530.4,214.4 530.5,212.8 530.6,214.3 530.8,213.6 530.9,212.7 531.0,211.9 531.1,215.8 531.3,212.5 531.4,210.8 531.5,217.9 531.6,216.6 531.8,214.9 531.9,213.5 532.0,214.1 532.1,210.2 532.2,213.6 532.4,214.3 532.5,213.2 532.6,214.7 532.7,211.8 532.9,214.1 533.0,209.9 533.1,213.6 533.2,212.2 533.4,210.5 533.5,212.7 533.6,213.7 533.7,212.2 533.8,215.8 534.0,212.0 534.1,215.8 534.2,215.3 534.3,212.2 534.5,217.0 534.6,210.4 534.7,214.8 534.8,213.7 535.0,215.4 535.1,209.9 535.2,210.8"/>
<polyline fill="none" stroke="#000" stroke-width="2.5" stroke-linejoin="round" points="43.3,355.7 43.4,356.2 43.5,356.0 43.7,357.6 43.8,362.6 43.9,355.4 44.0,361.5 44.2,362.3 44.3,358.4 44.4,357.6 44.5,360.5 44.7,362.3 44.8,364.6 44.9,361.5 45.0,363.3 45.1,358.4 45.3,357.4 45.4,355.4 45.5,356.8 45.6,358.7 45.8,360.1 45.9,356.5 46.0,361.6 46.1,359.4 46.3,358.2 46.4,357.9 46.5,364.6 46.6,360.2 46.7,357.6 46.9,357.5 47.0,364.3 47.1,358.5 47.2,362.8 47.4,363.4 47.5,354.4 47.6,363.2 47.7,359.5 47.9,357.4 48.0,358.8 48.1,361.4 48.2,361.0 48.3,361.2 48.5,358.4 48.6,363.3 48.7,363.8 48.8,364.7 49.0,362.7 49.1,364.9 49.2,365.4 49.3,362.0 49.5,362.5 49.6,361.8 49.7,361.8 49.8,362.5 49.9,356.4 50.1,359.7 50.2,361.7 50.3,355.5 50.4,357.1 50.6,364.4 50.7,358.1 50.8,359.6 50.9,361.6 51.0,359.6 51.2,358.7 51.3,359.6 51.4,359.8 51.5,359.5 51.7,361.3 51.8,364.8 51.9,361.8 52.0,364.9 52.2,362.8 52.3,363.1 52.4,362.5 52.5,360.4 52.6,362.2 52.8,361.9 52.9,358.6 53.0,363.1 53.1,362.7 53.3,362.2 53.4,360.0 53.5,355.1 53.6,364.9 53.8,361.3 53.9,356.3 54.0,363.1 54.1,359.9 54.2,363.2 54.4,361.4 54.5,364.4 54.6,362.2 54.7,362.4 54.9,362.1 55.0,364.7 55.1,358.7 55.2,364.6 55.4,363.5 55.5,360.5 55.6,361.9 55.7,360.8 55.8,362.1 56.0,364.2 56.1,360.3 56.2,363.8 56.3,364.3 56.5,363.6 56.6,365.8 56.7,361.9 56.8,363.7 57.0,368.1 57.1,362.2 57.2,361.8 57.3,362.2 57.4,363.6 57.6,360.7 57.7,361.6 57.8,358.0 57.9,359.7 58.1,359.8 58.2,359.4 58.3,361.2 58.4,363.9 58.6,361.3 58.7,359.1 58.8,362.8 58.9,362.7 59.0,358.9 59.2,362.6 59.3,359.7 59.4,360.8 59.5,360.5 59.7,364.3 59.8,360.3 59.9,361.5 60.0,362.7 60.2,364.8 60.3,365.1 60.4,359.9 60.5,365.2 60.6,363.0 60.8,365.2 60.9,364.9 61.0,361.1 61.1,362.4 61.3,361.6 61.4,363.3 61.5,366.3 61.6,362.5 61.8,360.8 61.9,368.5 62.0,360.0 62.1,362.4 62.2,362.4 62.4,359.3 62.5,364.3 62.6,365.0 62.7,362.2 62.9,362.6 63.0,362.0 63.1,358.2 63.2,363.0 63.3,359.4 63.5,360.1 63.6,363.4 63.7,364.7 63.8,360.4 64.0,365.2 64.1,366.7 64.2,362.9 64.3,362.3 64.5,362.9 64.6,361.5 64.7,360.4 64.8,364.0 64.9,364.2 65.1,361.3 65.2,361.5 65.3,361.0 65.4,360.8 65.6,360.2 65.7,358.9 65.8,364.7 65.9,361.7 66.1,362.7 66.2,366.8 66.3,361.3 66.4,363.9 66.5,359.3 66.7,361.0 66.8,364.2 66.9,361.9 67.0,359.1 67.2,358.8 67.3,363.3 67.4,360.3 67.5,364.1 67.7,363.1 67.8,361.7 67.9,362.3 68.0,364.3 68.1,362.6 68.3,360.2 68.4,363.3 68.5,361.6 68.6,361.9 68.8,363.8 68.9,363.3 69.0,364.9 69.1,362.0 69.3,361.4 69.4,361.7 69.5,363.4 69.6,360.6 69.7,361.6 69.9,360.5 70.0,360.6 70.1,362.1 70.2,368.2 70.4,361.6 70.5,363.1 70.6,362.7 70.7,362.1 70.9,362.6 71.0,367.1 71.1,361.9 71.2,366.3 71.3,364.0 71.5,360.5 71.6,361.0 71.7,361.4 71.8,359.9 72.0,365.2 72.1,363.5 72.2,363.7 72.3,360.1 72.5,363.6 72.6,361.2 72.7,368.2 72.8,362.3 72.9,363.2 73.1,363.5 73.2,361.4 73.3,361.6 73.4,361.6 73.6,364.5 73.7,360.8 73.8,362.1 73.9,363.3 74.1,361.5 74.2,359.3 74.3,359.7 74.4,361.5 74.5,360.2 74.7,364.7 74.8,362.5 74.9,362.4 75.0,360.1 75.2,363.7 75.3,361.7 75.4,360.3 75.5,361.0 75.7,368.0 75.8,361.1 75.9,360.5 76.0,365.2 76.1,364.2 76.3,361.8 76.4,365.7 76.5,359.1 76.6,361.4 76.8,358.6 76.9,365.6 77.0,362.6 77.1,368.5 77.2,363.5 77.4,363.6 77.5,359.8 77.6,359.7 77.7,361.3 77.9,364.5 78.0,360.0 78.1,356.8 78.2,364.3 78.4,364.5 78.5,360.2 78.6,363.3 78.7,364.9 78.8,365.0 79.0,358.6 79.1,362.4 79.2,360.4 79.3,364.5 79.5,362.4 79.6,359.4 79.7,362.4 79.8,363.5 80.0,358.5 80.1,359.0 80.2,360.5 80.3,361.4 80.4,360.8 80.6,357.8 80.7,358.4 80.8,362.0 80.9,363.0 81.1,359.9 81.2,362.4 81.3,366.4 81.4,361.5 81.6,361.0 81.7,360.4 81.8,363.1 81.9,362.6 82.0,362.6 82.2,361.1 82.3,363.0 82.4,363.0 82.5,361.7 82.7,364.7 82.8,358.4 82.9,363.7 83.0,361.7 83.2,364.0 83.3,366.5 83.4,362.1 83.5,361.6 83.6,362.0 83.8,365.3 83.9,365.6 84.0,362.4 84.1,363.5 84.3,366.2 84.4,363.3 84.5,358.5 84.6,360.1 84.8,360.8 84.9,362.9 85.0,360.7 85.1,365.2 85.2,360.9 85.4,365.7 85.5,360.4 85.6,365.1 85.7,362.4 85.9,365.3 86.0,366.6 86.1,366.1 86.2,364.4 86.4,360.1 86.5,360.0 86.6,355.6 86.7,365.4 86.8,364.8 87.0,364.3 87.1,359.1 87.2,367.9 87.3,360.2 87.5,363.8 87.6,357.9 87.7,360.3 87.8,364.6 88.0,364.2 88.1,359.1 88.2,361.5 88.3,364.3 88.4,357.2 88.6,363.4 88.7,357.9 88.8,363.0 88.9,360.9 89.1,363.8 89.2,360.2 89.3,360.6 89.4,360.5 89.6,359.0 89.7,360.6 89.8,358.8 89.9,359.9 90.0,362.8 90.2,360.4 90.3,363.7 90.4,362.8 90.5,363.0 90.7,358.3 90.8,362.0 90.9,364.4 91.0,363.1 91.1,363.9 91.3,364.5 91.4,357.3 91.5,362.2 91.6,362.2 91.8,360.4 91.9,357.7 92.0,361.1 92.1,360.4 92.3,365.4 92.4,363.9 92.5,359.7 92.6,358.2 92.7,358.7 92.9,360.5 93.0,358.9 93.1,365.3 93.2,357.8 93.4,360.4 93.5,360.9 93.6,361.6 93.7,358.4 93.9,360.0 94.0,361.0 94.1,361.3 94.2,359.2 94.3,359.8 94.5,361.1 94.6,365.1 94.7,357.7 94.8,362.2 95.0,364.3 95.1,357.2 95.2,364.0 95.3,364.0 95.5,360.8 95.6,362.9 95.7,364.2 95.8,360.3 95.9,361.2 96.1,358.1 96.2,359.0 96.3,360.8 96.4,360.5 96.6,364.5 96.7,360.2 96.8,357.8 96.9,362.8 97.1,362.9 97.2,361.7 97.3,360.4 97.4,358.8 97.5,359.2 97.7,364.3 97.8,362.6 97.9,361.0 98.0,361.7 98.2,359.9 98.3,358.5 98.4,359.6 98.5,360.6 98.7,356.8 98.8,357.3 98.9,356.6 99.0,359.6 99.1,362.1 99.3,357.4 99.4,357.9 99.5,356.8 99.6,359.5 99.8,357.7 99.9,358.1 100.0,357.9 100.1,365.9 100.3,360.3 100.4,358.9 100.5,359.4 100.6,362.5 100.7,362.7 100.9,361.0 101.0,355.6 101.1,362.6 101.2,362.7 101.4,361.9 101.5,361.1 101.6,360.1 101.7,362.7 101.9,359.1 102.0,362.2 102.1,358.5 102.2,358.6 102.3,358.4 102.5,358.1 102.6,358.1 102.7,361.0 102.8,362.8 103.0,357.4 103.1,356.5 103.2,361.9 103.3,358.0 103.4,359.4 103.6,359.0 103.7,360.7 103.8,356.3 103.9,361.0 104.1,360.1 104.2,352.8 104.3,357.6 104.4,356.9 104.6,358.6 104.7,357.4 104.8,355.7 104.9,356.5 105.0,358.0 105.2,357.2 105.3,356.6 105.4,362.1 105.5,357.9 105.7,353.9 105.8,356.7 105.9,357.0 106.0,353.8 106.2,356.3 106.3,353.9 106.4,350.4 106.5,356.4 106.6,356.9 106.8,356.8 106.9,354.8 107.0,353.6 107.1,355.5 107.3,355.8 107.4,356.8 107.5,357.7 107.6,356.3 107.8,352.9 107.9,354.0 108.0,350.7 108.1,355.6 108.2,355.2 108.4,356.5 108.5,354.7 108.6,357.2 108.7,351.7 108.9,354.0 109.0,352.5 109.1,352.5 109.2,348.7 109.4,351.0 109.5,347.9 109.6,351.7 109.7,350.7 109.8,352.6 110.0,347.8 110.1,350.7 110.2,351.2 110.3,346.2 110.5,355.6 110.6,352.6 110.7,349.5 110.8,355.9 111.0,354.4 111.1,344.8 111.2,350.1 111.3,349.1 111.4,350.6 111.6,348.0 111.7,349.6 111.8,350.3 111.9,343.5 112.1,350.1 112.2,353.4 112.3,349.8 112.4,352.4 112.6,353.5 112.7,349.8 112.8,350.0 112.9,349.9 113.0,347.4 113.2,354.7 113.3,349.5 113.4,349.7 113.5,350.6 113.7,351.9 113.8,343.7 113.9,344.5 114.0,347.6 114.2,348.5 114.3,343.3 114.4,342.7 114.5,348.7 114.6,348.4 114.8,345.2 114.9,345.0 115.0,343.7 115.1,341.9 115.3,342.5 115.4,345.5 115.5,344.2 115.6,347.5 115.8,340.2 115.9,338.8 116.0,345.6 116.1,340.7 116.2,342.4 116.4,343.2 116.5,339.0 116.6,337.9 116.7,343.2 116.9,334.3 117.0,343.8 117.1,336.1 117.2,343.8 117.3,342.0 117.5,341.6 117.6,342.1 117.7,340.7 117.8,335.8 118.0,342.4 118.1,339.9 118.2,340.7 118.3,338.6 118.5,338.0 118.6,341.4 118.7,341.2 118.8,338.8 118.9,334.1 119.1,334.6 119.2,334.2 119.3,340.5 119.4,338.4 119.6,336.8 119.7,335.8 119.8,333.8 119.9,338.3 120.1,332.3 120.2,332.6 120.3,337.5 120.4,336.6 120.5,334.1 120.7,330.1 120.8,329.8 120.9,336.0 121.0,334.2 121.2,337.3 121.3,330.9 121.4,331.7 121.5,328.7 121.7,336.3 121.8,325.6 121.9,332.3 122.0,335.0 122.1,326.6 122.3,324.6 122.4,325.5 122.5,323.8 122.6,328.8 122.8,326.9 122.9,323.9 123.0,325.4 123.1,330.4 123.3,324.4 123.4,323.5 123.5,330.2 123.6,320.9 123.7,321.7 123.9,327.2 124.0,322.2 124.1,315.7 124.2,318.4 124.4,313.6 124.5,318.0 124.6,320.5 124.7,313.9 124.9,323.3 125.0,322.0 125.1,320.1 125.2,314.8 125.3,316.7 125.5,317.9 125.6,318.7 125.7,319.2 125.8,308.0 126.0,312.0 126.1,310.1 126.2,312.2 126.3,313.4 126.5,319.4 126.6,311.4 126.7,314.0 126.8,311.0 126.9,310.1 127.1,315.1 127.2,305.6 127.3,310.7 127.4,314.5 127.6,315.7 127.7,305.4 127.8,303.5 127.9,301.9 128.1,304.0 128.2,304.7 128.3,304.2 128.4,307.0 128.5,301.9 128.7,303.2 128.8,296.4 128.9,298.8 129.0,299.7 129.2,292.1 129.3,299.2 129.4,300.8 129.5,297.5 129.7,297.2 129.8,295.6 129.9,290.9 130.0,293.8 130.1,290.7 130.3,290.9 130.4,288.6 130.5,286.8 130.6,281.0 130.8,284.8 130.9,291.0 131.0,289.4 131.1,286.8 131.2,286.1 131.4,292.0 131.5,288.8 131.6,283.1 131.7,287.0 131.9,293.3 132.0,282.3 132.1,287.3 132.2,284.2 132.4,285.8 132.5,284.1 132.6,281.9 132.7,275.8 132.8,282.0 133.0,281.6 133.1,280.0 133.2,276.3 133.3,276.7 133.5,283.7 133.6,273.8 133.7,275.1 133.8,272.0 134.0,273.7 134.1,274.0 134.2,275.1 134.3,272.1 134.4,270.8 134.6,270.5 134.7,269.9 134.8,268.0 134.9,267.0 135.1,267.8 135.2,264.0 135.3,263.8 135.4,261.4 135.6,260.8 135.7,262.4 135.8,258.0 135.9,258.4 136.0,259.4 136.2,255.8 136.3,253.3 136.4,251.0 136.5,247.1 136.7,248.0 136.8,246.7 136.9,248.0 137.0,246.4 137.2,242.4 137.3,244.0 137.4,241.1 137.5,243.6 137.6,242.2 137.8,240.1 137.9,237.7 138.0,239.8 138.1,237.6 138.3,237.0 138.4,235.1 138.5,232.9 138.6,233.2 138.8,229.9 138.9,231.1 139.0,229.3 139.1,225.9 139.2,227.9 139.4,226.3 139.5,225.1 139.6,224.8 139.7,225.3 139.9,222.1 140.0,221.6 140.1,223.6 140.2,222.7 140.4,220.3 140.5,223.1 140.6,221.1 140.7,224.8 140.8,224.9 141.0,225.8 141.1,223.9 141.2,225.7 141.3,229.1 141.5,227.6 141.6,231.7 141.7,232.4 141.8,234.4 142.0,234.8 142.1,238.4 142.2,239.9 142.3,242.3 142.4,246.2 142.6,244.6 142.7,247.0 142.8,247.6 142.9,253.2 143.1,252.5 143.2,255.7 143.3,254.8 143.4,257.4 143.5,259.9 143.7,261.0 143.8,261.4 143.9,264.2 144.0,264.6 144.2,267.1 144.3,266.9 144.4,269.4 144.5,269.4 144.7,272.9 144.8,272.8 144.9,274.3 145.0,275.1 145.1,278.6 145.3,279.1 145.4,280.2 145.5,283.6 145.6,282.6 145.8,286.1 145.9,288.1 146.0,285.6 146.1,290.1 146.3,291.1 146.4,292.0 146.5,293.6 146.6,293.1 146.7,296.5 146.9,297.6 147.0,297.0 147.1,299.9 147.2,300.1 147.4,302.9 147.5,303.2 147.6,305.6 147.7,305.4 147.9,307.6 148.0,309.1 148.1,310.7 148.2,313.4 148.3,315.8 148.5,313.5 148.6,317.2 148.7,317.5 148.8,318.9 149.0,320.2 149.1,321.7 149.2,323.0 149.3,325.0 149.5,326.6 149.6,327.0 149.7,327.9 149.8,329.5 149.9,330.5 150.1,332.7 150.2,331.4 150.3,331.9 150.4,333.8 150.6,335.3 150.7,335.8 150.8,337.1 150.9,335.6 151.1,337.7 151.2,338.2 151.3,337.8 151.4,338.0 151.5,337.0 151.7,335.5 151.8,331.9 151.9,328.4 152.0,327.0 152.2,325.0 152.3,320.4 152.4,317.2 152.5,312.7 152.7,309.6 152.8,306.5 152.9,299.2 153.0,297.1 153.1,290.3 153.3,288.6 153.4,282.5 153.5,275.6 153.6,270.6 153.8,267.7 153.9,263.6 154.0,265.5 154.1,265.4 154.3,265.5 154.4,267.4 154.5,265.8 154.6,268.0 154.7,269.1 154.9,273.0 155.0,277.2 155.1,279.5 155.2,285.2 155.4,289.0 155.5,291.7 155.6,295.5 155.7,300.0 155.9,302.7 156.0,307.1 156.1,307.8 156.2,310.3 156.3,314.7 156.5,314.8 156.6,319.0 156.7,320.0 156.8,322.5 157.0,323.5 157.1,326.5 157.2,328.7 157.3,330.5 157.4,331.9 157.6,332.2 157.7,335.9 157.8,336.9 157.9,339.4 158.1,338.4 158.2,341.3 158.3,341.8 158.4,343.3 158.6,345.1 158.7,346.1 158.8,347.7 158.9,347.8 159.0,348.9 159.2,349.6 159.3,349.3 159.4,352.0 159.5,351.3 159.7,352.3 159.8,354.0 159.9,353.9 160.0,355.0 160.2,354.0 160.3,356.3 160.4,356.9 160.5,358.1 160.6,360.2 160.8,359.9 160.9,360.6 161.0,361.3 161.1,362.8 161.3,363.1 161.4,362.3 161.5,361.3 161.6,363.2 161.8,361.3 161.9,361.5 162.0,362.5 162.1,361.0 162.2,359.9 162.4,359.7 162.5,361.4 162.6,362.3 162.7,362.8 162.9,359.6 163.0,360.8 163.1,359.7 163.2,357.8 163.4,362.4 163.5,355.2 163.6,354.0 163.7,354.7 163.8,356.2 164.0,351.7 164.1,353.9 164.2,348.5 164.3,348.5 164.5,347.8 164.6,346.5 164.7,345.8 164.8,344.3 165.0,342.9 165.1,340.3 165.2,341.9 165.3,339.9 165.4,339.2 165.6,339.8 165.7,337.4 165.8,335.7 165.9,336.6 166.1,332.0 166.2,328.9 166.3,329.9 166.4,328.2 166.6,329.8 166.7,329.7 166.8,329.9 166.9,330.4 167.0,331.0 167.2,330.6 167.3,330.1 167.4,329.6 167.5,329.7 167.7,331.2 167.8,331.5 167.9,330.7 168.0,332.7 168.2,335.6 168.3,335.6 168.4,335.3 168.5,338.7 168.6,341.0 168.8,339.4 168.9,345.9 169.0,346.4 169.1,345.3 169.3,348.8 169.4,348.5 169.5,350.5 169.6,349.1 169.7,351.0 169.9,352.7 170.0,353.9 170.1,354.0 170.2,352.6 170.4,353.7 170.5,356.5 170.6,354.6 170.7,357.6 170.9,356.2 171.0,352.2 171.1,351.8 171.2,346.9 171.3,350.1 171.5,349.5 171.6,344.9 171.7,343.6 171.8,342.5 172.0,343.3 172.1,342.2 172.2,336.9 172.3,336.2 172.5,336.0 172.6,333.7 172.7,331.0 172.8,330.8 172.9,326.4 173.1,323.3 173.2,325.0 173.3,323.2 173.4,322.3 173.6,317.7 173.7,315.5 173.8,316.3 173.9,315.4 174.1,315.2 174.2,314.4 174.3,316.5 174.4,314.3 174.5,315.9 174.7,312.0 174.8,311.4 174.9,315.1 175.0,311.8 175.2,312.8 175.3,313.9 175.4,313.9 175.5,319.3 175.7,322.8 175.8,322.0 175.9,323.8 176.0,323.1 176.1,323.6 176.3,327.9 176.4,326.4 176.5,327.3 176.6,330.1 176.8,335.2 176.9,335.6 177.0,336.2 177.1,336.4 177.3,338.4 177.4,342.5 177.5,343.5 177.6,343.9 177.7,349.0 177.9,347.3 178.0,347.1 178.1,350.8 178.2,354.4 178.4,354.9 178.5,356.3 178.6,354.2 178.7,357.4 178.9,357.8 179.0,358.0 179.1,357.3 179.2,362.4 179.3,361.1 179.5,360.7 179.6,363.7 179.7,367.5 179.8,360.7 180.0,364.3 180.1,367.5 180.2,367.9 180.3,363.1 180.5,364.4 180.6,361.9 180.7,365.9 180.8,363.4 180.9,364.6 181.1,369.4 181.2,364.9 181.3,364.0 181.4,367.5 181.6,368.0 181.7,368.2 181.8,370.0 181.9,366.7 182.1,367.7 182.2,369.2 182.3,367.2 182.4,370.6 182.5,369.8 182.7,368.1 182.8,367.7 182.9,368.1 183.0,368.6 183.2,364.3 183.3,365.5 183.4,366.4 183.5,366.3 183.6,366.6 183.8,366.6 183.9,367.8 184.0,367.0 184.1,368.2 184.3,368.1 184.4,367.4 184.5,366.7 184.6,366.0 184.8,368.6 184.9,366.1 185.0,367.0 185.1,367.8 185.2,366.3 185.4,362.6 185.5,363.6 185.6,368.1 185.7,360.9 185.9,365.6 186.0,360.7 186.1,362.3 186.2,363.4 186.4,359.0 186.5,362.1 186.6,355.5 186.7,358.7 186.8,357.1 187.0,358.5 187.1,358.5 187.2,358.7 187.3,358.1 187.5,354.6 187.6,353.0 187.7,354.8 187.8,352.3 188.0,348.6 188.1,347.7 188.2,350.2 188.3,349.4 188.4,349.6 188.6,349.1 188.7,345.1 188.8,347.9 188.9,344.6 189.1,346.9 189.2,345.5 189.3,348.0 189.4,345.4 189.6,343.3 189.7,343.5 189.8,343.7 189.9,344.4 190.0,344.4 190.2,341.1 190.3,340.5 190.4,343.5 190.5,341.9 190.7,343.6 190.8,342.3 190.9,344.3 191.0,342.2 191.2,338.7 191.3,340.0 191.4,341.7 191.5,338.7 191.6,340.7 191.8,342.0 191.9,343.1 192.0,342.9 192.1,338.9 192.3,344.3 192.4,341.0 192.5,343.3 192.6,342.3 192.8,346.1 192.9,344.9 193.0,346.0 193.1,347.0 193.2,346.6 193.4,346.1 193.5,350.4 193.6,349.4 193.7,350.2 193.9,346.1 194.0,346.3 194.1,353.5 194.2,352.4 194.4,348.4 194.5,352.9 194.6,352.7 194.7,351.2 194.8,352.6 195.0,356.9 195.1,352.4 195.2,354.7 195.3,352.2 195.5,350.4 195.6,357.1 195.7,353.1 195.8,350.0 196.0,349.2 196.1,348.2 196.2,345.5 196.3,347.0 196.4,346.0 196.6,342.9 196.7,342.3 196.8,338.9 196.9,340.7 197.1,335.7 197.2,338.1 197.3,340.0 197.4,335.8 197.5,340.2 197.7,332.3 197.8,332.9 197.9,332.5 198.0,333.5 198.2,333.4 198.3,331.1 198.4,327.7 198.5,332.8 198.7,331.1 198.8,331.1 198.9,326.6 199.0,330.2 199.1,328.9 199.3,331.0 199.4,332.5 199.5,328.1 199.6,329.7 199.8,330.3 199.9,329.3 200.0,332.2 200.1,332.6 200.3,330.5 200.4,331.1 200.5,333.6 200.6,330.4 200.7,334.9 200.9,336.5 201.0,337.2 201.1,334.7 201.2,340.4 201.4,341.7 201.5,336.7 201.6,342.7 201.7,342.7 201.9,342.8 202.0,340.7 202.1,344.8 202.2,341.9 202.3,344.9 202.5,347.3 202.6,347.7 202.7,347.3 202.8,349.4 203.0,349.5 203.1,351.1 203.2,350.0 203.3,350.0 203.5,351.9 203.6,351.4 203.7,356.7 203.8,360.2 203.9,357.3 204.1,359.0 204.2,355.3 204.3,357.7 204.4,356.4 204.6,360.5 204.7,359.9 204.8,358.0 204.9,363.4 205.1,360.8 205.2,362.9 205.3,363.5 205.4,365.0 205.5,365.0 205.7,362.6 205.8,362.3 205.9,361.6 206.0,360.9 206.2,367.4 206.3,362.4 206.4,366.9 206.5,362.0 206.7,362.4 206.8,366.3 206.9,363.8 207.0,362.5 207.1,368.0 207.3,361.6 207.4,362.8 207.5,366.2 207.6,368.1 207.8,364.8 207.9,363.0 208.0,369.9 208.1,365.0 208.3,363.6 208.4,365.3 208.5,367.7 208.6,359.3 208.7,362.8 208.9,366.8 209.0,366.4 209.1,365.3 209.2,364.9 209.4,366.6 209.5,367.7 209.6,364.1 209.7,364.4 209.8,367.1 210.0,364.7 210.1,362.5 210.2,365.1 210.3,363.0 210.5,366.9 210.6,367.5 210.7,364.2 210.8,365.3 211.0,366.4 211.1,368.5 211.2,368.0 211.3,366.4 211.4,366.6 211.6,368.9 211.7,367.4 211.8,367.1 211.9,363.6 212.1,366.4 212.2,367.0 212.3,366.2 212.4,363.8 212.6,362.0 212.7,367.4 212.8,367.5 212.9,366.4 213.0,364.1 213.2,365.0 213.3,365.9 213.4,367.7 213.5,366.3 213.7,364.3 213.8,365.0 213.9,363.5 214.0,370.1 214.2,364.5 214.3,369.3 214.4,366.8 214.5,370.2 214.6,363.8 214.8,367.8 214.9,364.2 215.0,364.2 215.1,364.6 215.3,363.3 215.4,364.2 215.5,365.6 215.6,369.8 215.8,365.2 215.9,362.8 216.0,367.5 216.1,369.2 216.2,360.4 216.4,367.2 216.5,363.0 216.6,362.0 216.7,367.5 216.9,369.3 217.0,370.2 217.1,366.2 217.2,365.3 217.4,366.6 217.5,367.5 217.6,368.2 217.7,369.3 217.8,367.2 218.0,367.6 218.1,366.8 218.2,364.6 218.3,367.3 218.5,369.6 218.6,368.0 218.7,361.5 218.8,369.8 219.0,364.4 219.1,371.5 219.2,371.2 219.3,367.9 219.4,370.5 219.6,364.5 219.7,365.9 219.8,364.7 219.9,367.1 220.1,366.4 220.2,366.8 220.3,366.5 220.4,369.6 220.6,366.2 220.7,365.2 220.8,366.4 220.9,367.2 221.0,367.1 221.2,363.8 221.3,365.0 221.4,365.4 221.5,364.0 221.7,362.4 221.8,364.7 221.9,360.1 222.0,365.3 222.2,363.1 222.3,365.3 222.4,365.7 222.5,370.4 222.6,370.6 222.8,371.2 222.9,366.3 223.0,365.0 223.1,368.1 223.3,363.8 223.4,366.0 223.5,364.5 223.6,366.1 223.7,368.0 223.9,363.8 224.0,366.8 224.1,366.7 224.2,366.8 224.4,367.4 224.5,365.4 224.6,366.1 224.7,365.5 224.9,362.8 225.0,369.7 225.1,367.9 225.2,367.9 225.3,364.8 225.5,362.3 225.6,366.9 225.7,364.3 225.8,370.4 226.0,370.3 226.1,365.2 226.2,369.4 226.3,367.9 226.5,366.0 226.6,362.5 226.7,367.4 226.8,367.9 226.9,367.8 227.1,364.4 227.2,365.5 227.3,365.4 227.4,365.1 227.6,363.5 227.7,367.1 227.8,365.7 227.9,363.3 228.1,364.9 228.2,365.8 228.3,364.1 228.4,363.8 228.5,364.6 228.7,360.8 228.8,363.8 228.9,360.4 229.0,362.2 229.2,364.2 229.3,360.1 229.4,363.5 229.5,362.1 229.7,363.3 229.8,356.4 229.9,352.9 230.0,356.7 230.1,363.1 230.3,358.6 230.4,356.9 230.5,357.0 230.6,357.5 230.8,355.7 230.9,360.9 231.0,355.5 231.1,351.8 231.3,351.6 231.4,354.0 231.5,354.0 231.6,355.7 231.7,356.0 231.9,356.1 232.0,351.6 232.1,355.0 232.2,352.8 232.4,355.0 232.5,352.6 232.6,358.4 232.7,359.0 232.9,357.1 233.0,354.6 233.1,359.6 233.2,358.4 233.3,355.0 233.5,360.0 233.6,360.9 233.7,360.3 233.8,355.4 234.0,361.3 234.1,362.0 234.2,358.6 234.3,362.5 234.5,361.3 234.6,362.5 234.7,356.4 234.8,359.8 234.9,361.7 235.1,357.3 235.2,361.1 235.3,364.9 235.4,357.5 235.6,364.4 235.7,363.3 235.8,359.3 235.9,359.5 236.1,359.4 236.2,362.3 236.3,356.2 236.4,363.2 236.5,358.2 236.7,360.9 236.8,360.8 236.9,363.6 237.0,359.6 237.2,360.0 237.3,364.7 237.4,365.8 237.5,361.9 237.6,361.2 237.8,362.6 237.9,362.2 238.0,362.0 238.1,359.7 238.3,356.8 238.4,362.5 238.5,361.8 238.6,364.6 238.8,364.5 238.9,365.7 239.0,360.8 239.1,363.6 239.2,359.0 239.4,362.5 239.5,363.1 239.6,360.2 239.7,361.6 239.9,367.5 240.0,359.9 240.1,364.3 240.2,361.0 240.4,363.9 240.5,355.9 240.6,358.8 240.7,361.3 240.8,365.7 241.0,361.5 241.1,359.0 241.2,360.8 241.3,363.6 241.5,358.2 241.6,361.9 241.7,361.3 241.8,360.9 242.0,362.7 242.1,360.1 242.2,363.1 242.3,363.3 242.4,365.8 242.6,362.6 242.7,361.7 242.8,359.3 242.9,360.6 243.1,358.9 243.2,365.1 243.3,356.5 243.4,362.9 243.6,363.0 243.7,363.4 243.8,360.9 243.9,367.0 244.0,361.1 244.2,358.2 244.3,360.3 244.4,360.1 244.5,364.9 244.7,361.7 244.8,359.7 244.9,359.7 245.0,361.5 245.2,360.7 245.3,361.6 245.4,364.2 245.5,358.6 245.6,360.3 245.8,362.4 245.9,358.4 246.0,363.4 246.1,365.1 246.3,362.2 246.4,363.9 246.5,361.2 246.6,362.1 246.8,362.7 246.9,362.0 247.0,364.9 247.1,361.0 247.2,364.2 247.4,361.1 247.5,365.8 247.6,365.3 247.7,362.9 247.9,358.8 248.0,360.0 248.1,355.8 248.2,363.9 248.4,360.8 248.5,360.1 248.6,361.9 248.7,358.4 248.8,360.7 249.0,362.2 249.1,364.0 249.2,367.0 249.3,359.9 249.5,363.9 249.6,360.3 249.7,359.3 249.8,362.6 249.9,361.6 250.1,358.1 250.2,361.6 250.3,366.3 250.4,359.9 250.6,359.9 250.7,364.6 250.8,362.3 250.9,360.0 251.1,362.9 251.2,360.5 251.3,359.9 251.4,362.6 251.5,359.6 251.7,363.4 251.8,365.3 251.9,360.0 252.0,359.9 252.2,359.8 252.3,361.4 252.4,359.5 252.5,361.6 252.7,363.2 252.8,358.7 252.9,361.8 253.0,363.9 253.1,363.2 253.3,359.0 253.4,364.1 253.5,358.8 253.6,363.4 253.8,357.3 253.9,362.4 254.0,360.2 254.1,360.1 254.3,359.9 254.4,358.5 254.5,361.9 254.6,361.1 254.7,362.6 254.9,358.7 255.0,362.4 255.1,363.0 255.2,358.5 255.4,363.5 255.5,364.2 255.6,357.7 255.7,358.3 255.9,366.3 256.0,361.3 256.1,360.2 256.2,358.3 256.3,362.0 256.5,359.4 256.6,361.3 256.7,360.9 256.8,361.5 257.0,361.9 257.1,359.7 257.2,361.4 257.3,361.7 257.5,359.7 257.6,358.6 257.7,360.9 257.8,364.0 257.9,359.9 258.1,359.2 258.2,361.0 258.3,359.3 258.4,360.6 258.6,360.3 258.7,359.1 258.8,361.3 258.9,358.5 259.1,358.8 259.2,356.6 259.3,358.7 259.4,361.1 259.5,363.4 259.7,366.8 259.8,360.5 259.9,359.8 260.0,365.4 260.2,357.6 260.3,363.1 260.4,361.8 260.5,364.9 260.7,360.7 260.8,361.7 260.9,357.3 261.0,359.9 261.1,361.3 261.3,360.1 261.4,359.9 261.5,364.0 261.6,358.2 261.8,357.8 261.9,358.2 262.0,360.0 262.1,359.5 262.3,361.1 262.4,360.2 262.5,366.0 262.6,360.3 262.7,361.7 262.9,363.5 263.0,367.8 263.1,362.1 263.2,361.3 263.4,365.1 263.5,361.9 263.6,359.3 263.7,359.5 263.8,362.2 264.0,360.1 264.1,366.0 264.2,364.6 264.3,367.7 264.5,364.4 264.6,363.2 264.7,365.7 264.8,365.8 265.0,362.2 265.1,368.4 265.2,365.1 265.3,366.6 265.4,363.5 265.6,367.3 265.7,370.2 265.8,364.7 265.9,362.9 266.1,365.6 266.2,365.6 266.3,366.9 266.4,361.7 266.6,367.8 266.7,366.1 266.8,364.8 266.9,362.7 267.0,366.0 267.2,368.0 267.3,366.6 267.4,366.6 267.5,365.6 267.7,366.2 267.8,362.3 267.9,368.9 268.0,367.9 268.2,364.9 268.3,365.6 268.4,362.2 268.5,363.5 268.6,366.4 268.8,363.8 268.9,362.8 269.0,364.7 269.1,366.9 269.3,363.0 269.4,366.5 269.5,366.8 269.6,366.9 269.8,366.7 269.9,365.6 270.0,364.8 270.1,367.7 270.2,363.3 270.4,368.3 270.5,362.5 270.6,364.9 270.7,366.0 270.9,361.2 271.0,366.6 271.1,368.0 271.2,362.9 271.4,365.0 271.5,367.3 271.6,367.2 271.7,367.8 271.8,361.8 272.0,365.0 272.1,368.3 272.2,362.1 272.3,362.6 272.5,365.2 272.6,365.2 272.7,362.1 272.8,363.1 273.0,365.1 273.1,365.7 273.2,369.7 273.3,367.7 273.4,366.1 273.6,365.5 273.7,367.3 273.8,371.7 273.9,364.8 274.1,363.5 274.2,362.8 274.3,365.6 274.4,362.9 274.6,361.1 274.7,363.7 274.8,363.7 274.9,367.8 275.0,369.2 275.2,364.5 275.3,364.5 275.4,368.1 275.5,365.6 275.7,364.7 275.8,367.6 275.9,363.4 276.0,367.2 276.1,370.5 276.3,362.2 276.4,366.7 276.5,365.0 276.6,368.6 276.8,367.8 276.9,363.5 277.0,365.1 277.1,363.4 277.3,367.8 277.4,363.3 277.5,365.1 277.6,367.4 277.7,364.1 277.9,362.6 278.0,362.4 278.1,362.6 278.2,364.5 278.4,364.2 278.5,365.9 278.6,364.7 278.7,367.6 278.9,366.6 279.0,368.2 279.1,363.5 279.2,362.0 279.3,367.8 279.5,365.7 279.6,359.9 279.7,363.3 279.8,365.6 280.0,367.4 280.1,370.0 280.2,367.1 280.3,365.0 280.5,363.2 280.6,362.1 280.7,362.4 280.8,361.2 280.9,363.5 281.1,365.8 281.2,364.3 281.3,360.6 281.4,364.2 281.6,364.9 281.7,361.8 281.8,361.2 281.9,361.5 282.1,362.3 282.2,356.3 282.3,358.5 282.4,357.2 282.5,360.0 282.7,360.7 282.8,357.9 282.9,361.1 283.0,358.6 283.2,358.3 283.3,357.3 283.4,353.8 283.5,359.9 283.7,355.9 283.8,351.0 283.9,355.6 284.0,355.8 284.1,350.4 284.3,353.0 284.4,355.8 284.5,353.3 284.6,352.0 284.8,351.6 284.9,352.0 285.0,349.1 285.1,349.9 285.3,350.9 285.4,350.1 285.5,352.1 285.6,347.0 285.7,352.8 285.9,348.9 286.0,348.6 286.1,349.4 286.2,350.9 286.4,349.1 286.5,351.3 286.6,351.0 286.7,349.5 286.9,349.2 287.0,349.2 287.1,349.7 287.2,347.3 287.3,351.1 287.5,349.0 287.6,348.7 287.7,346.6 287.8,345.7 288.0,347.6 288.1,341.7 288.2,343.4 288.3,340.8 288.5,338.3 288.6,340.5 288.7,337.2 288.8,338.2 288.9,335.5 289.1,331.8 289.2,333.4 289.3,330.6 289.4,330.7 289.6,329.5 289.7,329.5 289.8,328.2 289.9,326.8 290.0,325.5 290.2,323.5 290.3,321.9 290.4,324.4 290.5,321.8 290.7,322.5 290.8,323.9 290.9,324.2 291.0,324.4 291.2,323.6 291.3,324.2 291.4,324.5 291.5,324.6 291.6,323.0 291.8,325.3 291.9,326.7 292.0,325.9 292.1,326.9 292.3,324.2 292.4,327.1 292.5,332.7 292.6,329.0 292.8,332.2 292.9,334.0 293.0,334.4 293.1,334.0 293.2,334.4 293.4,333.4 293.5,338.2 293.6,336.6 293.7,338.8 293.9,335.7 294.0,335.8 294.1,336.4 294.2,340.8 294.4,339.9 294.5,340.5 294.6,341.9 294.7,342.2 294.8,342.9 295.0,342.3 295.1,342.5 295.2,344.6 295.3,346.4 295.5,344.7 295.6,346.2 295.7,346.2 295.8,347.9 296.0,346.2 296.1,351.0 296.2,351.4 296.3,349.7 296.4,350.0 296.6,348.4 296.7,352.6 296.8,352.2 296.9,352.9 297.1,350.9 297.2,354.7 297.3,356.8 297.4,353.3 297.6,354.9 297.7,357.4 297.8,357.2 297.9,357.8 298.0,361.0 298.2,359.8 298.3,358.5 298.4,354.5 298.5,358.8 298.7,357.3 298.8,357.6 298.9,362.1 299.0,358.3 299.2,360.0 299.3,362.9 299.4,359.2 299.5,359.7 299.6,358.5 299.8,360.0 299.9,357.8 300.0,361.5 300.1,359.8 300.3,362.2 300.4,362.7 300.5,361.3 300.6,361.9 300.8,360.8 300.9,362.9 301.0,364.0 301.1,363.0 301.2,365.2 301.4,362.6 301.5,362.1 301.6,363.4 301.7,358.7 301.9,361.3 302.0,357.7 302.1,363.1 302.2,364.7 302.4,359.6 302.5,360.9 302.6,361.2 302.7,365.3 302.8,363.5 303.0,365.7 303.1,364.2 303.2,364.3 303.3,358.3 303.5,357.9 303.6,365.7 303.7,368.1 303.8,359.9 303.9,360.2 304.1,365.5 304.2,367.6 304.3,360.2 304.4,361.3 304.6,365.0 304.7,363.6 304.8,363.6 304.9,364.8 305.1,360.1 305.2,360.6 305.3,366.3 305.4,358.9 305.5,364.7 305.7,361.5 305.8,365.8 305.9,362.4 306.0,362.2 306.2,365.3 306.3,362.6 306.4,362.6 306.5,357.1 306.7,364.0 306.8,362.3 306.9,365.1 307.0,361.7 307.1,360.1 307.3,365.9 307.4,362.8 307.5,362.2 307.6,359.6 307.8,366.2 307.9,365.1 308.0,360.5 308.1,364.7 308.3,364.1 308.4,365.8 308.5,362.9 308.6,368.0 308.7,358.2 308.9,359.0 309.0,364.4 309.1,364.9 309.2,363.8 309.4,368.4 309.5,363.6 309.6,358.8 309.7,366.4 309.9,362.8 310.0,361.7 310.1,363.9 310.2,363.8 310.3,361.4 310.5,364.2 310.6,363.1 310.7,361.6 310.8,361.6 311.0,356.8 311.1,359.4 311.2,359.4 311.3,360.1 311.5,363.9 311.6,360.4 311.7,359.1 311.8,356.5 311.9,357.2 312.1,355.3 312.2,354.0 312.3,354.7 312.4,350.7 312.6,351.1 312.7,352.8 312.8,350.4 312.9,347.6 313.1,346.8 313.2,345.3 313.3,347.0 313.4,346.2 313.5,346.5 313.7,344.3 313.8,345.2 313.9,347.3 314.0,345.6 314.2,347.4 314.3,350.8 314.4,349.4 314.5,349.7 314.7,352.6 314.8,352.1 314.9,352.2 315.0,354.4 315.1,351.5 315.3,357.1 315.4,356.7 315.5,357.7 315.6,358.0 315.8,359.7 315.9,354.6 316.0,359.1 316.1,362.7 316.2,357.9 316.4,357.8 316.5,358.5 316.6,357.0 316.7,366.8 316.9,360.2 317.0,362.8 317.1,358.9 317.2,359.7 317.4,359.3 317.5,358.1 317.6,360.6 317.7,364.6 317.8,360.3 318.0,364.4 318.1,366.8 318.2,363.2 318.3,365.0 318.5,365.4 318.6,361.0 318.7,361.3 318.8,358.2 319.0,361.2 319.1,365.1 319.2,362.9 319.3,361.8 319.4,361.1 319.6,360.1 319.7,361.0 319.8,367.4 319.9,364.9 320.1,362.5 320.2,361.2 320.3,360.0 320.4,363.9 320.6,360.2 320.7,360.3 320.8,360.3 320.9,364.1 321.0,361.1 321.2,364.2 321.3,358.6 321.4,358.3 321.5,357.2 321.7,359.5 321.8,356.3 321.9,356.8 322.0,359.5 322.2,357.0 322.3,354.4 322.4,353.5 322.5,347.9 322.6,348.2 322.8,351.8 322.9,348.1 323.0,347.3 323.1,348.6 323.3,344.8 323.4,346.1 323.5,345.3 323.6,346.1 323.8,346.4 323.9,349.6 324.0,349.2 324.1,351.5 324.2,349.2 324.4,351.0 324.5,352.5 324.6,355.6 324.7,355.1 324.9,354.1 325.0,352.8 325.1,356.0 325.2,354.4 325.4,355.3 325.5,356.8 325.6,357.8 325.7,357.8 325.8,362.4 326.0,359.9 326.1,357.9 326.2,360.7 326.3,357.1 326.5,361.9 326.6,362.7 326.7,363.1 326.8,359.1 327.0,364.2 327.1,364.2 327.2,366.7 327.3,363.9 327.4,362.8 327.6,362.4 327.7,361.5 327.8,361.0 327.9,361.6 328.1,365.8 328.2,363.0 328.3,363.6 328.4,362.6 328.6,364.7 328.7,365.8 328.8,365.5 328.9,361.3 329.0,363.5 329.2,369.0 329.3,364.9 329.4,363.9 329.5,362.7 329.7,360.5 329.8,359.5 329.9,363.0 330.0,363.9 330.1,361.8 330.3,363.4 330.4,365.0 330.5,365.0 330.6,366.4 330.8,360.2 330.9,364.2 331.0,365.0 331.1,364.0 331.3,360.7 331.4,359.9 331.5,367.6 331.6,362.3 331.7,364.3 331.9,362.2 332.0,361.7 332.1,364.6 332.2,365.7 332.4,363.5 332.5,363.0 332.6,365.6 332.7,363.1 332.9,363.0 333.0,362.3 333.1,364.1 333.2,363.2 333.3,363.0 333.5,362.7 333.6,363.9 333.7,366.1 333.8,363.1 334.0,361.4 334.1,368.4 334.2,365.7 334.3,362.2 334.5,359.3 334.6,366.1 334.7,361.5 334.8,363.1 334.9,357.3 335.1,364.9 335.2,365.8 335.3,362.7 335.4,362.5 335.6,362.9 335.7,360.2 335.8,360.4 335.9,365.5 336.1,362.3 336.2,363.0 336.3,362.8 336.4,364.9 336.5,362.9 336.7,364.3 336.8,364.7 336.9,361.8 337.0,362.8 337.2,364.1 337.3,365.3 337.4,364.1 337.5,364.3 337.7,360.9 337.8,362.1 337.9,364.1 338.0,362.6 338.1,363.0 338.3,363.4 338.4,366.7 338.5,361.1 338.6,365.2 338.8,364.8 338.9,363.8 339.0,361.6 339.1,363.3 339.3,362.1 339.4,365.1 339.5,363.2 339.6,363.5 339.7,361.2 339.9,366.0 340.0,358.7 340.1,368.6 340.2,360.8 340.4,361.6 340.5,361.9 340.6,359.6 340.7,365.2 340.9,361.2 341.0,360.7 341.1,365.1 341.2,364.0 341.3,358.8 341.5,359.5 341.6,362.6 341.7,363.0 341.8,364.2 342.0,362.5 342.1,365.7 342.2,365.4 342.3,363.9 342.4,363.1 342.6,365.6 342.7,366.2 342.8,363.7 342.9,362.9 343.1,364.8 343.2,361.9 343.3,363.9 343.4,364.9 343.6,360.6 343.7,361.4 343.8,358.7 343.9,361.8 344.0,364.2 344.2,362.0 344.3,364.2 344.4,363.2 344.5,361.4 344.7,366.2 344.8,362.8 344.9,365.5 345.0,364.2 345.2,363.1 345.3,367.1 345.4,362.2 345.5,361.6 345.6,365.8 345.8,363.5 345.9,360.7 346.0,361.3 346.1,359.0 346.3,362.9 346.4,363.9 346.5,362.1 346.6,362.3 346.8,363.3 346.9,360.3 347.0,357.9 347.1,357.7 347.2,359.6 347.4,358.9 347.5,358.5 347.6,355.2 347.7,357.2 347.9,359.7 348.0,356.4 348.1,358.1 348.2,355.7 348.4,354.0 348.5,356.1 348.6,356.5 348.7,353.9 348.8,354.3 349.0,350.5 349.1,348.6 349.2,346.7 349.3,349.2 349.5,350.9 349.6,346.7 349.7,344.5 349.8,346.1 350.0,345.1 350.1,344.0 350.2,341.6 350.3,344.5 350.4,340.3 350.6,340.0 350.7,337.3 350.8,339.6 350.9,340.6 351.1,339.1 351.2,335.6 351.3,337.6 351.4,334.7 351.6,335.4 351.7,334.8 351.8,335.8 351.9,335.2 352.0,334.1 352.2,334.2 352.3,336.1 352.4,332.7 352.5,334.1 352.7,337.9 352.8,335.8 352.9,334.9 353.0,337.5 353.2,338.6 353.3,336.5 353.4,338.4 353.5,338.6 353.6,341.5 353.8,341.9 353.9,341.7 354.0,345.2 354.1,344.2 354.3,349.6 354.4,349.4 354.5,347.7 354.6,349.6 354.8,352.3 354.9,352.2 355.0,350.3 355.1,352.2 355.2,353.1 355.4,354.3 355.5,352.2 355.6,357.6 355.7,362.2 355.9,357.5 356.0,357.8 356.1,357.3 356.2,359.2 356.3,357.0 356.5,357.9 356.6,360.0 356.7,354.1 356.8,358.0 357.0,363.5 357.1,361.8 357.2,360.5 357.3,361.0 357.5,354.9 357.6,362.4 357.7,360.2 357.8,364.1 357.9,362.3 358.1,363.1 358.2,358.3 358.3,358.1 358.4,366.5 358.6,361.4 358.7,361.0 358.8,365.3 358.9,363.6 359.1,363.7 359.2,366.2 359.3,362.9 359.4,361.7 359.5,361.1 359.7,357.2 359.8,361.8 359.9,361.7 360.0,360.6 360.2,367.6 360.3,359.9 360.4,361.0 360.5,360.7 360.7,360.9 360.8,363.6 360.9,361.1 361.0,363.4 361.1,367.9 361.3,361.2 361.4,360.6 361.5,360.9 361.6,365.1 361.8,363.0 361.9,363.0 362.0,361.3 362.1,360.9 362.3,366.5 362.4,366.0 362.5,360.1 362.6,360.0 362.7,360.9 362.9,360.9 363.0,364.1 363.1,365.4 363.2,361.9 363.4,359.9 363.5,364.3 363.6,365.5 363.7,358.5 363.9,362.7 364.0,359.8 364.1,359.8 364.2,359.9 364.3,365.2 364.5,362.8 364.6,360.3 364.7,361.8 364.8,362.8 365.0,358.6 365.1,363.4 365.2,359.6 365.3,360.1 365.5,365.7 365.6,355.8 365.7,364.4 365.8,364.6 365.9,361.3 366.1,364.7 366.2,362.4 366.3,360.7 366.4,363.0 366.6,360.9 366.7,361.4 366.8,360.1 366.9,368.4 367.1,364.9 367.2,361.8 367.3,358.8 367.4,360.1 367.5,360.3 367.7,359.6 367.8,361.8 367.9,362.0 368.0,366.2 368.2,365.7 368.3,359.0 368.4,365.7 368.5,359.9 368.7,364.8 368.8,362.8 368.9,362.5 369.0,363.2 369.1,360.8 369.3,359.6 369.4,366.9 369.5,359.0 369.6,364.4 369.8,360.5 369.9,363.7 370.0,362.6 370.1,363.2 370.2,360.9 370.4,363.7 370.5,367.3 370.6,364.8 370.7,366.2 370.9,361.8 371.0,362.3 371.1,365.1 371.2,359.4 371.4,365.7 371.5,363.2 371.6,362.8 371.7,366.9 371.8,361.4 372.0,366.9 372.1,360.7 372.2,360.5 372.3,365.9 372.5,366.3 372.6,360.2 372.7,364.0 372.8,368.5 373.0,364.0 373.1,360.9 373.2,363.3 373.3,364.1 373.4,363.8 373.6,361.7 373.7,363.0 373.8,365.5 373.9,366.2 374.1,364.6 374.2,366.0 374.3,365.5 374.4,361.5 374.6,369.0 374.7,368.7 374.8,365.7 374.9,365.3 375.0,365.9 375.2,366.3 375.3,367.9 375.4,368.4 375.5,365.5 375.7,363.9 375.8,363.8 375.9,370.3 376.0,366.1 376.2,363.8 376.3,361.2 376.4,368.2 376.5,366.5 376.6,366.8 376.8,363.9 376.9,365.3 377.0,365.0 377.1,366.8 377.3,371.3 377.4,365.4 377.5,363.9 377.6,369.0 377.8,368.8 377.9,365.7 378.0,367.1 378.1,364.9 378.2,371.3 378.4,368.0 378.5,363.2 378.6,369.1 378.7,369.3 378.9,363.4 379.0,366.9 379.1,366.9 379.2,363.1 379.4,362.6 379.5,373.6 379.6,364.4 379.7,368.4 379.8,368.7 380.0,369.5 380.1,369.2 380.2,367.3 380.3,365.0 380.5,364.0 380.6,368.2 380.7,364.8 380.8,369.4 381.0,366.5 381.1,370.0 381.2,363.0 381.3,371.1 381.4,366.0 381.6,368.0 381.7,363.6 381.8,368.5 381.9,367.4 382.1,369.6 382.2,368.5 382.3,371.9 382.4,362.9 382.5,365.7 382.7,363.5 382.8,366.5 382.9,369.0 383.0,369.0 383.2,365.1 383.3,362.9 383.4,366.4 383.5,367.8 383.7,362.5 383.8,366.1 383.9,363.9 384.0,366.6 384.1,363.7 384.3,367.7 384.4,363.6 384.5,365.0 384.6,371.0 384.8,358.3 384.9,363.3 385.0,363.4 385.1,364.5 385.3,364.5 385.4,363.7 385.5,361.4 385.6,362.4 385.7,364.0 385.9,358.8 386.0,364.9 386.1,362.1 386.2,365.4 386.4,361.3 386.5,363.4 386.6,361.7 386.7,364.7 386.9,365.3 387.0,361.3 387.1,364.5 387.2,362.5 387.3,364.6 387.5,362.0 387.6,362.2 387.7,364.6 387.8,365.9 388.0,364.4 388.1,365.1 388.2,363.2 388.3,366.8 388.5,364.5 388.6,362.5 388.7,368.9 388.8,362.2 388.9,368.5 389.1,366.1 389.2,366.9 389.3,371.4 389.4,364.6 389.6,363.7 389.7,362.9 389.8,366.1 389.9,369.1 390.1,365.8 390.2,366.3 390.3,366.9 390.4,365.8 390.5,367.1 390.7,363.5 390.8,361.4 390.9,364.7 391.0,365.2 391.2,369.4 391.3,367.6 391.4,364.2 391.5,370.0 391.7,369.1 391.8,365.5 391.9,372.0 392.0,367.6 392.1,365.5 392.3,366.7 392.4,369.2 392.5,368.1 392.6,364.6 392.8,371.5 392.9,367.3 393.0,365.8 393.1,367.1 393.3,368.2 393.4,371.7 393.5,371.2 393.6,363.5 393.7,367.0 393.9,367.9 394.0,368.5 394.1,370.2 394.2,369.5 394.4,365.3 394.5,372.1 394.6,369.8 394.7,363.5 394.9,370.5 395.0,368.6 395.1,364.6 395.2,368.2 395.3,369.4 395.5,368.4 395.6,366.1 395.7,367.5 395.8,367.2 396.0,366.8 396.1,369.2 396.2,365.6 396.3,368.4 396.4,369.1 396.6,370.3 396.7,369.2 396.8,367.2 396.9,366.9 397.1,366.4 397.2,371.9 397.3,366.8 397.4,365.8 397.6,367.0 397.7,369.9 397.8,370.2 397.9,364.2 398.0,370.6 398.2,367.9 398.3,372.3 398.4,371.7 398.5,366.5 398.7,365.8 398.8,365.7 398.9,367.1 399.0,368.9 399.2,368.9 399.3,369.2 399.4,369.7 399.5,367.4 399.6,368.0 399.8,369.1 399.9,370.9 400.0,367.5 400.1,366.4 400.3,369.9 400.4,368.7 400.5,369.3 400.6,367.8 400.8,369.1 400.9,367.0 401.0,366.1 401.1,368.4 401.2,364.4 401.4,369.3 401.5,372.7 401.6,365.3 401.7,365.9 401.9,369.0 402.0,366.0 402.1,369.0 402.2,367.3 402.4,366.6 402.5,369.7 402.6,366.3 402.7,366.4 402.8,364.4 403.0,369.0 403.1,367.4 403.2,366.3 403.3,369.5 403.5,367.3 403.6,370.3 403.7,369.7 403.8,366.7 404.0,366.2 404.1,371.1 404.2,367.6 404.3,366.3 404.4,367.5 404.6,363.8 404.7,368.3 404.8,364.6 404.9,369.1 405.1,366.2 405.2,368.2 405.3,371.7 405.4,370.7 405.6,367.0 405.7,368.7 405.8,365.1 405.9,368.7 406.0,370.9 406.2,370.1 406.3,370.5 406.4,368.9 406.5,365.2 406.7,367.9 406.8,365.3 406.9,370.2 407.0,367.3 407.2,366.7 407.3,365.4 407.4,368.5 407.5,369.2 407.6,368.9 407.8,364.0 407.9,369.1 408.0,366.6 408.1,362.3 408.3,369.5 408.4,368.4 408.5,363.9 408.6,370.1 408.8,369.1 408.9,372.1 409.0,369.1 409.1,368.2 409.2,363.8 409.4,373.1 409.5,364.3 409.6,366.9 409.7,369.5 409.9,367.2 410.0,361.8 410.1,366.9 410.2,366.6 410.3,370.3 410.5,367.4 410.6,371.3 410.7,370.1 410.8,370.3 411.0,369.4 411.1,373.4 411.2,370.3 411.3,370.2 411.5,367.7 411.6,366.8 411.7,364.4 411.8,362.8 411.9,364.7 412.1,369.6 412.2,365.8 412.3,367.1 412.4,366.5 412.6,367.6 412.7,368.8 412.8,371.5 412.9,364.5 413.1,372.8 413.2,367.1 413.3,365.8 413.4,366.5 413.5,370.7 413.7,369.2 413.8,370.8 413.9,366.4 414.0,370.9 414.2,367.1 414.3,368.7 414.4,365.7 414.5,366.6 414.7,365.9 414.8,369.7 414.9,369.3 415.0,361.0 415.1,367.6 415.3,367.5 415.4,364.0 415.5,364.2 415.6,369.9 415.8,366.3 415.9,369.2 416.0,369.0 416.1,360.7 416.3,370.3 416.4,363.4 416.5,365.3 416.6,366.2 416.7,367.6 416.9,367.5 417.0,365.6 417.1,365.8 417.2,367.2 417.4,368.3 417.5,365.0 417.6,367.2 417.7,366.8 417.9,364.0 418.0,364.6 418.1,364.9 418.2,370.9 418.3,365.8 418.5,367.0 418.6,366.8 418.7,363.1 418.8,365.7 419.0,360.5 419.1,360.9 419.2,365.2 419.3,362.9 419.5,364.5 419.6,365.2 419.7,368.6 419.8,363.1 419.9,363.4 420.1,357.6 420.2,366.2 420.3,362.7 420.4,361.1 420.6,364.6 420.7,362.2 420.8,360.2 420.9,359.7 421.1,363.2 421.2,363.7 421.3,361.2 421.4,360.6 421.5,366.0 421.7,359.6 421.8,357.9 421.9,361.7 422.0,358.5 422.2,356.5 422.3,360.3 422.4,358.5 422.5,363.5 422.6,360.2 422.8,361.5 422.9,362.0 423.0,360.2 423.1,361.1 423.3,355.9 423.4,356.2 423.5,357.9 423.6,360.4 423.8,359.3 423.9,359.6 424.0,360.2 424.1,357.7 424.2,356.5 424.4,356.4 424.5,361.7 424.6,354.9 424.7,355.7 424.9,359.9 425.0,357.0 425.1,360.9 425.2,357.9 425.4,359.9 425.5,358.2 425.6,361.7 425.7,361.6 425.8,364.7 426.0,362.8 426.1,363.0 426.2,359.9 426.3,361.5 426.5,361.1 426.6,358.6 426.7,359.6 426.8,362.9 427.0,364.4 427.1,368.1 427.2,362.3 427.3,360.8 427.4,366.3 427.6,363.8 427.7,363.0 427.8,363.9 427.9,359.4 428.1,365.0 428.2,365.7 428.3,365.2 428.4,363.9 428.6,364.9 428.7,368.1 428.8,363.3 428.9,370.6 429.0,365.5 429.2,366.3 429.3,371.7 429.4,366.5 429.5,364.9 429.7,366.6 429.8,362.8 429.9,369.3 430.0,366.3 430.2,366.1 430.3,364.3 430.4,366.9 430.5,368.2 430.6,359.5 430.8,362.5 430.9,367.5 431.0,364.7 431.1,365.7 431.3,363.1 431.4,363.3 431.5,369.0 431.6,367.1 431.8,367.6 431.9,359.7 432.0,366.6 432.1,367.0 432.2,367.2 432.4,364.5 432.5,368.5 432.6,369.0 432.7,366.1 432.9,359.8 433.0,365.9 433.1,366.6 433.2,367.9 433.4,365.0 433.5,367.7 433.6,365.7 433.7,366.1 433.8,365.8 434.0,367.6 434.1,369.3 434.2,368.5 434.3,363.8 434.5,368.1 434.6,365.5 434.7,367.0 434.8,359.8 435.0,368.2 435.1,365.4 435.2,365.4 435.3,366.6 435.4,363.3 435.6,364.0 435.7,359.8 435.8,367.1 435.9,364.8 436.1,366.6 436.2,367.2 436.3,365.0 436.4,367.8 436.5,360.9 436.7,365.3 436.8,367.0 436.9,364.2 437.0,366.1 437.2,364.6 437.3,367.9 437.4,368.3 437.5,364.0 437.7,364.6 437.8,366.3 437.9,365.0 438.0,366.3 438.1,365.4 438.3,366.3 438.4,363.1 438.5,366.5 438.6,368.2 438.8,362.9 438.9,366.8 439.0,366.4 439.1,367.3 439.3,360.8 439.4,365.5 439.5,364.9 439.6,367.4 439.7,367.8 439.9,359.8 440.0,364.1 440.1,366.7 440.2,366.9 440.4,366.9 440.5,363.6 440.6,364.7 440.7,366.8 440.9,367.9 441.0,366.5 441.1,363.7 441.2,359.8 441.3,364.6 441.5,365.3 441.6,365.6 441.7,367.2 441.8,367.5 442.0,371.3 442.1,366.4 442.2,367.4 442.3,370.4 442.5,368.7 442.6,364.9 442.7,368.2 442.8,363.4 442.9,368.3 443.1,368.5 443.2,365.2 443.3,369.1 443.4,367.8 443.6,365.2 443.7,368.5 443.8,364.9 443.9,366.6 444.1,363.2 444.2,369.3 444.3,365.4 444.4,364.3 444.5,365.5 444.7,368.8 444.8,370.6 444.9,366.2 445.0,364.6 445.2,366.4 445.3,366.1 445.4,367.4 445.5,365.8 445.7,366.9 445.8,361.3 445.9,362.9 446.0,365.4 446.1,362.8 446.3,363.5 446.4,368.1 446.5,365.6 446.6,365.6 446.8,365.6 446.9,364.5 447.0,364.4 447.1,365.3 447.3,367.0 447.4,365.9 447.5,366.3 447.6,369.3 447.7,366.8 447.9,368.3 448.0,367.2 448.1,368.5 448.2,364.0 448.4,363.3 448.5,367.9 448.6,366.7 448.7,367.8 448.8,362.5 449.0,371.8 449.1,365.8 449.2,371.0 449.3,365.0 449.5,365.1 449.6,360.7 449.7,367.1 449.8,366.2 450.0,365.1 450.1,367.4 450.2,364.6 450.3,368.1 450.4,367.3 450.6,367.0 450.7,364.8 450.8,364.7 450.9,369.4 451.1,366.4 451.2,366.6 451.3,366.3 451.4,365.8 451.6,363.0 451.7,367.1 451.8,365.2 451.9,364.3 452.0,369.1 452.2,372.1 452.3,365.8 452.4,367.3 452.5,363.2 452.7,368.7 452.8,366.5 452.9,368.3 453.0,368.6 453.2,365.6 453.3,367.8 453.4,365.9 453.5,367.0 453.6,366.4 453.8,362.7 453.9,363.8 454.0,361.8 454.1,361.6 454.3,367.0 454.4,369.2 454.5,367.7 454.6,365.1 454.8,372.2 454.9,367.7 455.0,369.5 455.1,365.7 455.2,367.5 455.4,363.8 455.5,365.2 455.6,362.8 455.7,366.4 455.9,364.7 456.0,363.7 456.1,367.7 456.2,365.4 456.4,365.4 456.5,366.6 456.6,364.1 456.7,366.0 456.8,365.5 457.0,364.8 457.1,365.6 457.2,367.7 457.3,366.4 457.5,365.4 457.6,363.9 457.7,367.2 457.8,368.7 458.0,365.6 458.1,363.0 458.2,371.4 458.3,366.2 458.4,370.6 458.6,362.1 458.7,362.3 458.8,363.6 458.9,364.3 459.1,359.8 459.2,361.2 459.3,365.8 459.4,363.7 459.6,366.6 459.7,364.7 459.8,363.4 459.9,365.3 460.0,365.6 460.2,363.0 460.3,366.9 460.4,366.5 460.5,366.2 460.7,365.0 460.8,365.5 460.9,366.4 461.0,366.6 461.2,365.8 461.3,369.7 461.4,367.3 461.5,369.7 461.6,369.2 461.8,363.1 461.9,371.2 462.0,362.2 462.1,367.1 462.3,364.8 462.4,365.5 462.5,368.4 462.6,368.4 462.7,367.4 462.9,364.7 463.0,366.9 463.1,365.7 463.2,365.6 463.4,363.8 463.5,364.6 463.6,368.0 463.7,363.9 463.9,363.0 464.0,367.2 464.1,366.9 464.2,365.1 464.3,369.5 464.5,366.7 464.6,366.8 464.7,360.0 464.8,366.6 465.0,368.9 465.1,363.4 465.2,368.0 465.3,365.4 465.5,365.2 465.6,365.0 465.7,362.6 465.8,360.7 465.9,361.2 466.1,368.4 466.2,366.5 466.3,361.9 466.4,367.5 466.6,367.0 466.7,365.1 466.8,367.4 466.9,367.5 467.1,366.8 467.2,368.8 467.3,364.1 467.4,366.5 467.5,370.0 467.7,371.2 467.8,366.7 467.9,370.5 468.0,365.4 468.2,362.9 468.3,368.2 468.4,369.5 468.5,365.4 468.7,369.2 468.8,362.7 468.9,363.6 469.0,364.8 469.1,365.9 469.3,366.6 469.4,366.9 469.5,368.3 469.6,364.6 469.8,365.3 469.9,370.4 470.0,366.0 470.1,368.3 470.3,366.9 470.4,366.3 470.5,367.8 470.6,364.5 470.7,366.9 470.9,368.1 471.0,366.9 471.1,365.5 471.2,364.9 471.4,365.8 471.5,368.9 471.6,367.4 471.7,364.7 471.9,369.5 472.0,364.9 472.1,368.2 472.2,365.7 472.3,362.3 472.5,365.5 472.6,364.4 472.7,365.3 472.8,365.4 473.0,364.5 473.1,366.2 473.2,365.5 473.3,363.0 473.5,366.7 473.6,366.9 473.7,364.7 473.8,365.7 473.9,364.7 474.1,364.1 474.2,365.5 474.3,367.3 474.4,366.9 474.6,362.6 474.7,365.5 474.8,367.8 474.9,368.8 475.1,365.0 475.2,367.0 475.3,366.0 475.4,363.1 475.5,366.7 475.7,364.1 475.8,362.9 475.9,369.5 476.0,368.7 476.2,366.6 476.3,363.1 476.4,367.5 476.5,365.3 476.6,366.9 476.8,365.6 476.9,366.5 477.0,362.7 477.1,366.0 477.3,366.5 477.4,368.8 477.5,361.6 477.6,370.6 477.8,371.0 477.9,365.9 478.0,364.6 478.1,368.8 478.2,362.0 478.4,365.4 478.5,368.2 478.6,370.0 478.7,368.0 478.9,366.4 479.0,366.0 479.1,366.6 479.2,368.5 479.4,360.9 479.5,365.6 479.6,366.3 479.7,364.8 479.8,365.7 480.0,368.8 480.1,365.3 480.2,365.0 480.3,369.0 480.5,365.7 480.6,364.6 480.7,362.3 480.8,365.2 481.0,362.0 481.1,364.5 481.2,366.8 481.3,364.2 481.4,365.2 481.6,366.9 481.7,368.0 481.8,369.9 481.9,369.0 482.1,367.3 482.2,366.9 482.3,365.7 482.4,364.1 482.6,359.3 482.7,366.4 482.8,363.7 482.9,368.4 483.0,362.2 483.2,361.1 483.3,364.1 483.4,368.1 483.5,364.7 483.7,364.4 483.8,367.9 483.9,365.0 484.0,366.4 484.2,364.6 484.3,365.2 484.4,371.7 484.5,361.3 484.6,369.0 484.8,360.3 484.9,360.7 485.0,367.8 485.1,364.9 485.3,365.4 485.4,367.4 485.5,364.1 485.6,361.2 485.8,365.6 485.9,363.4 486.0,369.1 486.1,365.8 486.2,366.7 486.4,361.8 486.5,365.5 486.6,365.9 486.7,366.8 486.9,362.4 487.0,366.5 487.1,368.0 487.2,364.5 487.4,364.1 487.5,366.5 487.6,367.6 487.7,364.6 487.8,367.5 488.0,369.5 488.1,366.4 488.2,365.0 488.3,367.2 488.5,368.8 488.6,368.4 488.7,365.8 488.8,367.0 488.9,363.8 489.1,365.4 489.2,364.1 489.3,363.7 489.4,365.0 489.6,363.8 489.7,365.1 489.8,365.0 489.9,362.2 490.1,363.7 490.2,366.4 490.3,364.0 490.4,369.2 490.5,370.4 490.7,367.0 490.8,365.8 490.9,365.9 491.0,361.5 491.2,364.0 491.3,360.2 491.4,366.0 491.5,367.1 491.7,365.4 491.8,364.5 491.9,363.3 492.0,365.9 492.1,362.1 492.3,367.3 492.4,361.8 492.5,361.0 492.6,364.0 492.8,365.4 492.9,363.1 493.0,364.3 493.1,365.4 493.3,363.0 493.4,366.9 493.5,364.3 493.6,366.0 493.7,363.2 493.9,360.5 494.0,366.0 494.1,366.8 494.2,362.9 494.4,364.4 494.5,361.5 494.6,361.0 494.7,367.8 494.9,368.2 495.0,363.3 495.1,369.0 495.2,363.3 495.3,365.9 495.5,364.8 495.6,364.9 495.7,358.8 495.8,368.2 496.0,362.5 496.1,364.3 496.2,367.2 496.3,361.7 496.5,364.5 496.6,364.4 496.7,364.2 496.8,361.9 496.9,365.6 497.1,361.7 497.2,364.5 497.3,368.5 497.4,364.8 497.6,361.5 497.7,365.1 497.8,361.5 497.9,362.7 498.1,365.1 498.2,362.9 498.3,364.2 498.4,358.9 498.5,364.5 498.7,367.2 498.8,360.1 498.9,364.3 499.0,367.6 499.2,365.8 499.3,365.1 499.4,365.5 499.5,365.9 499.7,367.4 499.8,369.4 499.9,365.9 500.0,364.3 500.1,368.1 500.3,367.3 500.4,366.4 500.5,366.0 500.6,364.2 500.8,362.0 500.9,367.6 501.0,362.8 501.1,362.2 501.3,363.0 501.4,365.7 501.5,367.3 501.6,366.3 501.7,369.3 501.9,359.2 502.0,369.1 502.1,364.9 502.2,367.7 502.4,359.2 502.5,365.0 502.6,371.7 502.7,364.1 502.8,369.2 503.0,365.7 503.1,366.8 503.2,362.5 503.3,365.4 503.5,370.4 503.6,368.7 503.7,364.7 503.8,366.4 504.0,365.6 504.1,367.9 504.2,368.4 504.3,367.0 504.4,365.6 504.6,367.0 504.7,366.6 504.8,366.2 504.9,366.0 505.1,362.6 505.2,364.6 505.3,364.3 505.4,367.5 505.6,366.0 505.7,367.4 505.8,366.5 505.9,363.2 506.0,366.4 506.2,365.7 506.3,368.0 506.4,365.2 506.5,368.3 506.7,363.9 506.8,367.8 506.9,366.6 507.0,365.3 507.2,363.0 507.3,362.0 507.4,371.7 507.5,363.6 507.6,368.9 507.8,365.1 507.9,367.4 508.0,367.8 508.1,365.6 508.3,368.0 508.4,364.0 508.5,368.8 508.6,369.7 508.8,365.2 508.9,367.2 509.0,367.5 509.1,367.3 509.2,367.2 509.4,365.8 509.5,367.1 509.6,365.1 509.7,365.1 509.9,368.2 510.0,365.3 510.1,365.4 510.2,365.2 510.4,368.8 510.5,363.8 510.6,370.1 510.7,372.0 510.8,366.8 511.0,368.0 511.1,371.1 511.2,365.8 511.3,365.5 511.5,368.7 511.6,367.1 511.7,372.8 511.8,364.0 512.0,362.6 512.1,367.4 512.2,366.3 512.3,363.6 512.4,369.1 512.6,367.3 512.7,372.5 512.8,362.9 512.9,363.6 513.1,366.7 513.2,365.9 513.3,370.7 513.4,367.5 513.6,369.6 513.7,364.6 513.8,367.9 513.9,368.4 514.0,368.2 514.2,367.7 514.3,366.9 514.4,373.2 514.5,367.8 514.7,367.8 514.8,365.9 514.9,367.1 515.0,368.3 515.2,364.4 515.3,371.0 515.4,367.3 515.5,370.3 515.6,364.3 515.8,369.3 515.9,363.8 516.0,368.5 516.1,369.8 516.3,372.5 516.4,363.5 516.5,369.5 516.6,370.9 516.7,364.8 516.9,363.9 517.0,364.9 517.1,367.8 517.2,364.9 517.4,363.9 517.5,369.2 517.6,367.9 517.7,366.2 517.9,367.8 518.0,362.8 518.1,365.7 518.2,367.5 518.3,367.9 518.5,364.6 518.6,368.4 518.7,362.4 518.8,365.7 519.0,364.8 519.1,370.4 519.2,372.9 519.3,367.9 519.5,362.4 519.6,362.9 519.7,369.0 519.8,371.5 519.9,365.9 520.1,367.9 520.2,363.8 520.3,363.5 520.4,369.6 520.6,371.0 520.7,367.9 520.8,367.5 520.9,367.3 521.1,366.0 521.2,366.1 521.3,370.3 521.4,368.1 521.5,367.7 521.7,367.5 521.8,364.6 521.9,365.8 522.0,367.7 522.2,365.6 522.3,363.3 522.4,368.6 522.5,367.6 522.7,365.0 522.8,366.4 522.9,368.7 523.0,367.1 523.1,368.5 523.3,367.5 523.4,368.5 523.5,367.8 523.6,368.2 523.8,369.2 523.9,369.4 524.0,371.0 524.1,371.1 524.3,366.5 524.4,362.3 524.5,366.8 524.6,370.0 524.7,367.3 524.9,365.5 525.0,363.1 525.1,365.7 525.2,367.9 525.4,368.6 525.5,365.8 525.6,363.7 525.7,369.9 525.9,362.5 526.0,371.5 526.1,367.4 526.2,366.1 526.3,364.9 526.5,367.3 526.6,364.7 526.7,368.0 526.8,365.6 527.0,368.4 527.1,364.9 527.2,364.0 527.3,363.6 527.5,370.3 527.6,367.2 527.7,366.9 527.8,371.1 527.9,364.9 528.1,368.7 528.2,368.0 528.3,367.9 528.4,369.1 528.6,368.6 528.7,371.5 528.8,365.6 528.9,363.7 529.0,368.0 529.2,365.0 529.3,369.5 529.4,366.4 529.5,369.7 529.7,372.0 529.8,367.5 529.9,366.9 530.0,366.3 530.2,367.7 530.3,365.3 530.4,369.0 530.5,369.8 530.6,364.6 530.8,372.9 530.9,366.2 531.0,367.7 531.1,367.8 531.3,365.2 531.4,371.6 531.5,361.7 531.6,365.8 531.8,363.4 531.9,367.3 532.0,369.8 532.1,369.1 532.2,363.8 532.4,366.3 532.5,366.1 532.6,366.2 532.7,363.5 532.9,368.0 533.0,361.0 533.1,372.4 533.2,367.2 533.4,365.8 533.5,365.2 533.6,370.3 533.7,366.1 533.8,369.9 534.0,364.5 534.1,366.4 534.2,365.6 534.3,367.5 534.5,369.2 534.6,363.9 534.7,369.8 534.8,365.2 535.0,367.7 535.1,363.1 535.2,366.1"/>
<path d="M140.3 219.6 L141.6 224 L142.4 230 L143 236 L143.5 242 L143.9 247.5 L141.8 248.5 L139 248.5 L137.3 249.5 L135.3 248.5 L135.3 241 L137.1 239.8 L138 235 L138.7 229.5 L139.4 224 Z" fill="#000"/>
<g fill="#000"><g transform="translate(127.70,123.60)"><path d="M0 1.00V3.90" stroke="#666" stroke-width="1.00"/><circle cx="0" cy="-3.80" r="2.05"/><circle cx="-2.45" cy="0" r="2.05"/><circle cx="2.45" cy="0" r="2.05"/><path d="M-1.20 -2.50H1.20V0.60H-1.20Z"/></g><g transform="translate(155.40,119.00)"><path d="M0 1.00V3.90" stroke="#666" stroke-width="1.00"/><circle cx="0" cy="-3.80" r="2.05"/><circle cx="-2.45" cy="0" r="2.05"/><circle cx="2.45" cy="0" r="2.05"/><path d="M-1.20 -2.50H1.20V0.60H-1.20Z"/></g><g transform="translate(175.50,148.70)"><path d="M0 1.00V3.90" stroke="#666" stroke-width="1.00"/><circle cx="0" cy="-3.80" r="2.05"/><circle cx="-2.45" cy="0" r="2.05"/><circle cx="2.45" cy="0" r="2.05"/><path d="M-1.20 -2.50H1.20V0.60H-1.20Z"/></g><g transform="translate(192.80,178.60)"><path d="M0 1.00V3.90" stroke="#666" stroke-width="1.00"/><circle cx="0" cy="-3.80" r="2.05"/><circle cx="-2.45" cy="0" r="2.05"/><circle cx="2.45" cy="0" r="2.05"/><path d="M-1.20 -2.50H1.20V0.60H-1.20Z"/></g><g transform="translate(200.00,172.90)"><path d="M0 1.00V3.90" stroke="#666" stroke-width="1.00"/><circle cx="0" cy="-3.80" r="2.05"/><circle cx="-2.45" cy="0" r="2.05"/><circle cx="2.45" cy="0" r="2.05"/><path d="M-1.20 -2.50H1.20V0.60H-1.20Z"/></g><g transform="translate(221.00,200.40)"><path d="M0 1.00V3.90" stroke="#666" stroke-width="1.00"/><circle cx="0" cy="-3.80" r="2.05"/><circle cx="-2.45" cy="0" r="2.05"/><circle cx="2.45" cy="0" r="2.05"/><path d="M-1.20 -2.50H1.20V0.60H-1.20Z"/></g><g transform="translate(233.50,196.50)"><path d="M0 1.00V3.90" stroke="#666" stroke-width="1.00"/><circle cx="0" cy="-3.80" r="2.05"/><circle cx="-2.45" cy="0" r="2.05"/><circle cx="2.45" cy="0" r="2.05"/><path d="M-1.20 -2.50H1.20V0.60H-1.20Z"/></g><g transform="translate(256.10,197.20)"><path d="M0 1.00V3.90" stroke="#666" stroke-width="1.00"/><circle cx="0" cy="-3.80" r="2.05"/><circle cx="-2.45" cy="0" r="2.05"/><circle cx="2.45" cy="0" r="2.05"/><path d="M-1.20 -2.50H1.20V0.60H-1.20Z"/></g><g transform="translate(284.60,184.20)"><path d="M0 1.00V3.90" stroke="#666" stroke-width="1.00"/><circle cx="0" cy="-3.80" r="2.05"/><circle cx="-2.45" cy="0" r="2.05"/><circle cx="2.45" cy="0" r="2.05"/><path d="M-1.20 -2.50H1.20V0.60H-1.20Z"/></g><g transform="translate(291.10,168.70)"><path d="M0 1.00V3.90" stroke="#666" stroke-width="1.00"/><circle cx="0" cy="-3.80" r="2.05"/><circle cx="-2.45" cy="0" r="2.05"/><circle cx="2.45" cy="0" r="2.05"/><path d="M-1.20 -2.50H1.20V0.60H-1.20Z"/></g><g transform="translate(314.80,194.70)"><path d="M0 1.00V3.90" stroke="#666" stroke-width="1.00"/><circle cx="0" cy="-3.80" r="2.05"/><circle cx="-2.45" cy="0" r="2.05"/><circle cx="2.45" cy="0" r="2.05"/><path d="M-1.20 -2.50H1.20V0.60H-1.20Z"/></g><g transform="translate(324.00,189.80)"><path d="M0 1.00V3.90" stroke="#666" stroke-width="1.00"/><circle cx="0" cy="-3.80" r="2.05"/><circle cx="-2.45" cy="0" r="2.05"/><circle cx="2.45" cy="0" r="2.05"/><path d="M-1.20 -2.50H1.20V0.60H-1.20Z"/></g><g transform="translate(351.50,178.90)"><path d="M0 1.00V3.90" stroke="#666" stroke-width="1.00"/><circle cx="0" cy="-3.80" r="2.05"/><circle cx="-2.45" cy="0" r="2.05"/><circle cx="2.45" cy="0" r="2.05"/><path d="M-1.20 -2.50H1.20V0.60H-1.20Z"/></g><g transform="translate(387.30,199.50)"><path d="M0 1.00V3.90" stroke="#666" stroke-width="1.00"/><circle cx="0" cy="-3.80" r="2.05"/><circle cx="-2.45" cy="0" r="2.05"/><circle cx="2.45" cy="0" r="2.05"/><path d="M-1.20 -2.50H1.20V0.60H-1.20Z"/></g><g transform="translate(424.00,195.50)"><path d="M0 1.00V3.90" stroke="#666" stroke-width="1.00"/><circle cx="0" cy="-3.80" r="2.05"/><circle cx="-2.45" cy="0" r="2.05"/><circle cx="2.45" cy="0" r="2.05"/><path d="M-1.20 -2.50H1.20V0.60H-1.20Z"/></g><circle cx="168" cy="157" r="2.6"/><path d="M140.8 37.3 L146.9 44.7 L140.8 52.1 L134.7 44.7Z"/></g>
<rect x="42.5" y="16.5" width="493.9" height="359.3" fill="none" stroke="#000" stroke-width="2.5"/>
<path d="M42.50 375.80v5.2M54.85 375.80v5.2M67.19 375.80v5.2M79.54 375.80v5.2M91.89 375.80v5.2M104.24 375.80v9.3M116.58 375.80v5.2M128.93 375.80v5.2M141.28 375.80v5.2M153.63 375.80v5.2M165.97 375.80v5.2M178.32 375.80v5.2M190.67 375.80v5.2M203.02 375.80v5.2M215.36 375.80v5.2M227.71 375.80v9.3M240.06 375.80v5.2M252.41 375.80v5.2M264.75 375.80v5.2M277.10 375.80v5.2M289.45 375.80v5.2M301.80 375.80v5.2M314.14 375.80v5.2M326.49 375.80v5.2M338.84 375.80v5.2M351.19 375.80v9.3M363.53 375.80v5.2M375.88 375.80v5.2M388.23 375.80v5.2M400.58 375.80v5.2M412.93 375.80v5.2M425.27 375.80v5.2M437.62 375.80v5.2M449.97 375.80v5.2M462.31 375.80v5.2M474.66 375.80v9.3M487.01 375.80v5.2M499.36 375.80v5.2M511.71 375.80v5.2M524.05 375.80v5.2M536.40 375.80v5.2" stroke="#000" stroke-width="2.1" fill="none"/>
<g font-size="29" text-anchor="middle">
<text x="103.7" y="411.5">20</text><text x="227.2" y="411.5">40</text><text x="350.7" y="411.5">60</text><text x="474.2" y="411.5">80</text>
</g>
<text x="288.5" y="439.5" font-size="30" text-anchor="middle">2θ/degree</text>
<text transform="translate(33.5,218) rotate(-90)" font-size="29.6" text-anchor="middle">Intensity/cps</text>
<g fill="#000"><path d="M404.9 31.3 L411.1 38.6 L404.9 45.9 L398.7 38.6Z"/><g transform="translate(404.70,76.80)"><path d="M0 1.62V6.32" stroke="#000" stroke-width="1.62"/><circle cx="0" cy="-6.16" r="3.32"/><circle cx="-3.97" cy="0" r="3.32"/><circle cx="3.97" cy="0" r="3.32"/><path d="M-1.94 -4.05H1.94V0.97H-1.94Z"/></g><circle cx="400.6" cy="111" r="4.6"/></g>
<g font-size="29">
<text y="46"><tspan x="414.7" y="46.3">-</tspan><tspan y="46"> C</tspan></text>
<text y="82"><tspan x="414.7" y="82.8">-</tspan><tspan y="82"> Zr</tspan><tspan x="459.2">O</tspan><tspan x="481.5" font-size="13.5">2</tspan></text>
<text y="118.3"><tspan x="414.2" y="119.1">-</tspan><tspan y="118.3"> Zr</tspan><tspan x="458.5" font-size="13.5">7</tspan><tspan x="465.2">O</tspan><tspan x="488.0" font-size="13.5">11</tspan><tspan x="501.0">N</tspan><tspan x="522.3" font-size="13.5">2</tspan></text>
</g>
<text transform="translate(454.8,187.3) scale(0.975,1)" font-size="30.8" font-weight="bold" style="fill:#ff0000">C</text>
<text x="476.1" y="187" font-size="15.5" font-weight="bold" style="fill:#ff0000">5</text>
<text transform="translate(449.6,347.6) scale(0.935,1)" font-size="32.4" font-weight="bold">C</text>
<text transform="translate(469.6,348.1) scale(0.975,1)" font-size="15.2" font-weight="bold">0.5</text>
</svg>
</body></html>
